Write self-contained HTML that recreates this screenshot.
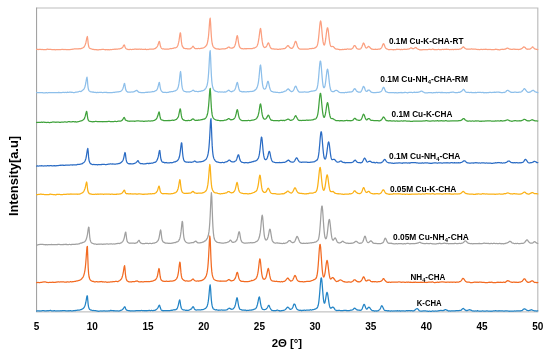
<!DOCTYPE html>
<html><head><meta charset="utf-8"><title>XRD</title>
<style>
html,body{margin:0;padding:0;background:#fff;}
body{width:550px;height:358px;overflow:hidden;}
svg{display:block;}
text{font-family:"Liberation Sans",sans-serif;font-weight:bold;fill:#000;}
polyline{fill:none;stroke-width:1.25;stroke-linejoin:round;stroke-linecap:round;}
</style></head><body>
<svg width="550" height="358" viewBox="0 0 550 358">
<rect x="0" y="0" width="550" height="358" fill="#fff"/>
<path d="M36.6 8 H537.8 V311.6" fill="none" stroke="#bebebe" stroke-width="1.2"/>
<path d="M36.6 7.5 V312" fill="none" stroke="#9a9a9a" stroke-width="1"/><path d="M36.1 311.9 H538.3" fill="none" stroke="#b4b4b4" stroke-width="1"/>
<polyline stroke="#2384c6" points="36.6,311.0 37.0,310.9 37.4,310.9 37.8,310.9 38.2,310.9 38.6,310.9 39.0,310.9 39.4,310.8 39.8,311.0 40.2,311.0 40.6,310.9 41.0,310.8 41.4,310.8 41.8,310.8 42.2,310.7 42.6,310.6 43.0,310.7 43.4,310.7 43.8,310.7 44.2,310.7 44.6,310.9 45.0,310.9 45.4,310.9 45.8,311.0 46.2,310.9 46.6,310.8 47.0,310.7 47.4,310.7 47.8,310.8 48.2,310.8 48.6,310.7 49.0,310.7 49.4,310.6 49.8,310.5 50.2,310.4 50.6,310.4 51.0,310.6 51.4,310.8 51.8,310.9 52.2,310.9 52.6,310.9 53.0,310.9 53.4,310.9 53.8,310.7 54.2,310.6 54.6,310.6 55.0,310.9 55.4,311.0 55.8,310.9 56.2,310.9 56.6,311.0 57.0,310.9 57.4,310.9 57.8,310.9 58.2,310.8 58.6,310.8 59.0,310.8 59.4,310.8 59.8,310.9 60.2,310.9 60.6,310.8 61.0,310.6 61.4,310.8 61.8,310.9 62.2,310.7 62.6,310.5 63.0,310.5 63.4,310.5 63.8,310.5 64.2,310.6 64.6,310.7 65.0,310.7 65.4,310.7 65.8,310.9 66.2,310.9 66.6,310.8 67.0,310.8 67.4,310.9 67.8,310.8 68.2,310.7 68.6,310.8 69.0,310.9 69.4,310.8 69.8,310.7 70.2,310.7 70.6,310.7 71.0,310.8 71.4,310.9 71.8,311.0 72.2,310.9 72.6,310.9 73.0,310.8 73.4,310.7 73.8,310.6 74.2,310.5 74.6,310.6 75.0,310.7 75.4,310.6 75.8,310.4 76.2,310.3 76.6,310.3 77.0,310.3 77.4,310.2 77.8,310.1 78.2,310.1 78.6,310.1 79.0,310.1 79.4,310.1 79.8,310.0 80.2,309.8 80.6,309.7 81.0,309.6 81.4,309.6 81.8,309.3 82.2,309.0 82.6,308.9 83.0,308.6 83.4,308.2 83.8,307.8 84.2,307.3 84.6,306.5 85.0,305.5 85.4,304.2 85.8,302.5 86.2,300.3 86.6,297.9 87.0,295.9 87.4,295.9 87.8,300.4 88.2,304.6 88.6,306.9 89.0,308.2 89.4,309.0 89.8,309.5 90.2,309.7 90.6,309.9 91.0,310.1 91.4,310.2 91.8,310.2 92.2,310.4 92.6,310.5 93.0,310.5 93.4,310.5 93.8,310.4 94.2,310.5 94.6,310.6 95.0,310.6 95.4,310.7 95.8,310.7 96.2,310.8 96.6,310.8 97.0,310.8 97.4,311.0 97.8,311.2 98.2,311.3 98.6,311.2 99.0,311.0 99.4,311.0 99.8,311.1 100.2,311.0 100.6,310.9 101.0,311.0 101.4,311.0 101.8,310.9 102.2,310.9 102.6,311.0 103.0,311.0 103.4,310.9 103.8,310.9 104.2,310.8 104.6,310.9 105.0,310.9 105.4,311.0 105.8,311.0 106.2,310.9 106.6,311.0 107.0,311.1 107.4,311.0 107.8,310.9 108.2,310.9 108.6,310.9 109.0,310.8 109.4,310.8 109.8,310.8 110.2,310.6 110.6,310.4 111.0,310.4 111.4,310.6 111.8,310.7 112.2,310.7 112.6,310.7 113.0,310.7 113.4,310.8 113.8,310.7 114.2,310.7 114.6,310.8 115.0,310.8 115.4,310.8 115.8,310.9 116.2,310.8 116.6,310.8 117.0,310.9 117.4,310.8 117.8,310.8 118.2,310.9 118.6,311.0 119.0,311.0 119.4,310.9 119.8,310.8 120.2,310.6 120.6,310.4 121.0,310.3 121.4,310.2 121.8,310.0 122.2,309.8 122.6,309.4 123.0,309.0 123.4,308.5 123.8,307.9 124.2,307.2 124.6,306.8 125.0,306.9 125.4,308.1 125.8,309.1 126.2,309.7 126.6,310.1 127.0,310.3 127.4,310.3 127.8,310.5 128.2,310.6 128.6,310.6 129.0,310.6 129.4,310.7 129.8,310.8 130.2,310.8 130.6,311.0 131.0,310.9 131.4,310.8 131.8,310.8 132.2,310.9 132.6,310.8 133.0,310.8 133.4,310.9 133.8,311.0 134.2,310.9 134.6,310.8 135.0,310.8 135.4,310.8 135.8,310.7 136.2,310.6 136.6,310.6 137.0,310.6 137.4,310.7 137.8,310.7 138.2,310.7 138.6,310.7 139.0,310.6 139.4,310.5 139.8,310.5 140.2,310.6 140.6,310.7 141.0,310.5 141.4,310.4 141.8,310.5 142.2,310.6 142.6,310.5 143.0,310.5 143.4,310.5 143.8,310.5 144.2,310.6 144.6,310.7 145.0,310.8 145.4,310.7 145.8,310.7 146.2,310.7 146.6,310.8 147.0,310.6 147.4,310.5 147.8,310.5 148.2,310.6 148.6,310.5 149.0,310.3 149.4,310.3 149.8,310.5 150.2,310.5 150.6,310.5 151.0,310.5 151.4,310.3 151.8,310.4 152.2,310.5 152.6,310.5 153.0,310.5 153.4,310.5 153.8,310.3 154.2,310.3 154.6,310.4 155.0,310.3 155.4,310.1 155.8,309.9 156.2,309.6 156.6,309.3 157.0,308.9 157.4,308.4 157.8,308.0 158.2,307.3 158.6,306.3 159.0,305.5 159.4,305.1 159.8,305.8 160.2,307.3 160.6,308.6 161.0,309.5 161.4,310.1 161.8,310.3 162.2,310.4 162.6,310.6 163.0,310.8 163.4,310.7 163.8,310.6 164.2,310.7 164.6,310.7 165.0,310.6 165.4,310.5 165.8,310.5 166.2,310.6 166.6,310.5 167.0,310.5 167.4,310.7 167.8,310.7 168.2,310.6 168.6,310.6 169.0,310.6 169.4,310.6 169.8,310.5 170.2,310.5 170.6,310.4 171.0,310.4 171.4,310.3 171.8,310.2 172.2,310.3 172.6,310.2 173.0,310.0 173.4,309.8 173.8,309.8 174.2,309.7 174.6,309.8 175.0,309.8 175.4,309.8 175.8,309.6 176.2,309.4 176.6,309.2 177.0,308.8 177.4,307.9 177.8,306.8 178.2,305.6 178.6,304.0 179.0,301.9 179.4,300.3 179.8,299.9 180.2,302.0 180.6,305.0 181.0,307.0 181.4,308.2 181.8,308.9 182.2,309.3 182.6,309.6 183.0,309.8 183.4,310.0 183.8,309.9 184.2,309.9 184.6,310.0 185.0,310.1 185.4,310.3 185.8,310.4 186.2,310.4 186.6,310.2 187.0,310.2 187.4,310.4 187.8,310.4 188.2,310.3 188.6,310.3 189.0,310.1 189.4,310.0 189.8,309.7 190.2,309.4 190.6,309.3 191.0,309.2 191.4,308.8 191.8,308.3 192.2,307.7 192.6,307.1 193.0,306.7 193.4,306.9 193.8,307.6 194.2,308.5 194.6,309.2 195.0,309.6 195.4,309.8 195.8,310.0 196.2,310.0 196.6,310.0 197.0,309.9 197.4,309.9 197.8,309.9 198.2,309.9 198.6,309.8 199.0,309.9 199.4,309.9 199.8,309.9 200.2,309.9 200.6,310.0 201.0,309.9 201.4,309.7 201.8,309.6 202.2,309.7 202.6,309.7 203.0,309.6 203.4,309.5 203.8,309.3 204.2,309.0 204.6,308.8 205.0,308.7 205.4,308.5 205.8,308.1 206.2,307.7 206.6,307.1 207.0,306.4 207.4,305.4 207.8,303.9 208.2,301.7 208.6,298.8 209.0,294.9 209.4,290.2 209.8,286.1 210.2,284.8 210.6,288.9 211.0,295.2 211.4,300.4 211.8,303.8 212.2,305.9 212.6,307.3 213.0,308.3 213.4,308.9 213.8,309.1 214.2,309.3 214.6,309.5 215.0,309.7 215.4,309.9 215.8,309.8 216.2,309.7 216.6,309.7 217.0,309.9 217.4,310.0 217.8,310.0 218.2,310.1 218.6,310.3 219.0,310.2 219.4,310.0 219.8,310.0 220.2,310.2 220.6,310.1 221.0,310.0 221.4,309.9 221.8,310.0 222.2,310.2 222.6,310.2 223.0,310.1 223.4,310.1 223.8,310.1 224.2,310.2 224.6,310.2 225.0,310.2 225.4,310.1 225.8,310.0 226.2,309.9 226.6,309.9 227.0,309.8 227.4,309.5 227.8,309.1 228.2,308.8 228.6,308.6 229.0,308.3 229.4,308.2 229.8,308.4 230.2,308.6 230.6,308.9 231.0,309.1 231.4,309.2 231.8,309.3 232.2,309.2 232.6,309.1 233.0,309.0 233.4,308.7 233.8,308.2 234.2,307.6 234.6,307.1 235.0,306.1 235.4,304.7 235.8,302.8 236.2,300.9 236.6,298.9 237.0,297.7 237.4,298.5 237.8,300.9 238.2,303.5 238.6,305.7 239.0,307.3 239.4,308.4 239.8,309.1 240.2,309.4 240.6,309.5 241.0,309.6 241.4,309.7 241.8,309.9 242.2,310.2 242.6,310.2 243.0,310.1 243.4,310.0 243.8,310.1 244.2,310.1 244.6,310.2 245.0,310.3 245.4,310.2 245.8,310.2 246.2,310.3 246.6,310.5 247.0,310.5 247.4,310.4 247.8,310.4 248.2,310.4 248.6,310.4 249.0,310.3 249.4,310.2 249.8,310.1 250.2,310.1 250.6,310.1 251.0,310.2 251.4,310.1 251.8,309.9 252.2,309.8 252.6,309.8 253.0,309.7 253.4,309.6 253.8,309.4 254.2,309.2 254.6,309.1 255.0,309.0 255.4,308.7 255.8,308.4 256.2,307.9 256.6,307.1 257.0,306.1 257.4,304.7 257.8,303.0 258.2,300.9 258.6,298.8 259.0,297.2 259.4,296.9 259.8,298.5 260.2,301.1 260.6,303.6 261.0,305.6 261.4,307.0 261.8,308.1 262.2,308.9 262.6,309.3 263.0,309.4 263.4,309.5 263.8,309.6 264.2,309.6 264.6,309.5 265.0,309.5 265.4,309.4 265.8,309.2 266.2,308.9 266.6,308.5 267.0,308.1 267.4,307.5 267.8,306.7 268.2,305.8 268.6,305.3 269.0,305.4 269.4,306.2 269.8,307.2 270.2,308.1 270.6,308.8 271.0,309.4 271.4,310.0 271.8,310.3 272.2,310.4 272.6,310.5 273.0,310.6 273.4,310.6 273.8,310.6 274.2,310.5 274.6,310.5 275.0,310.6 275.4,310.6 275.8,310.6 276.2,310.5 276.6,310.3 277.0,310.2 277.4,310.1 277.8,310.2 278.2,310.4 278.6,310.5 279.0,310.7 279.4,310.8 279.8,310.7 280.2,310.8 280.6,310.8 281.0,310.8 281.4,310.7 281.8,310.7 282.2,310.6 282.6,310.5 283.0,310.4 283.4,310.4 283.8,310.3 284.2,310.2 284.6,310.0 285.0,309.8 285.4,309.5 285.8,309.0 286.2,308.7 286.6,308.2 287.0,307.7 287.4,307.3 287.8,307.1 288.2,307.4 288.6,307.7 289.0,308.2 289.4,308.7 289.8,309.1 290.2,309.3 290.6,309.3 291.0,309.2 291.4,309.0 291.8,308.8 292.2,308.4 292.6,307.7 293.0,306.7 293.4,305.5 293.8,304.5 294.2,304.0 294.6,304.0 295.0,304.6 295.4,305.6 295.8,306.7 296.2,307.7 296.6,308.6 297.0,309.2 297.4,309.5 297.8,309.8 298.2,310.1 298.6,310.2 299.0,310.2 299.4,310.3 299.8,310.4 300.2,310.3 300.6,310.2 301.0,310.4 301.4,310.6 301.8,310.6 302.2,310.4 302.6,310.4 303.0,310.4 303.4,310.4 303.8,310.2 304.2,310.1 304.6,310.2 305.0,310.3 305.4,310.3 305.8,310.3 306.2,310.2 306.6,310.1 307.0,310.1 307.4,310.1 307.8,310.1 308.2,310.1 308.6,310.0 309.0,310.0 309.4,310.1 309.8,310.1 310.2,309.8 310.6,309.7 311.0,309.9 311.4,310.0 311.8,310.0 312.2,309.8 312.6,309.7 313.0,309.7 313.4,309.7 313.8,309.5 314.2,309.4 314.6,309.3 315.0,309.1 315.4,308.9 315.8,308.8 316.2,308.6 316.6,308.3 317.0,308.0 317.4,307.5 317.8,306.5 318.2,305.3 318.6,303.3 319.0,300.3 319.4,296.4 319.8,291.6 320.2,286.4 320.6,281.5 321.0,278.3 321.4,277.9 321.8,280.2 322.2,284.4 322.6,289.6 323.0,294.5 323.4,298.6 323.8,301.6 324.2,303.2 324.6,303.2 325.0,302.2 325.4,300.3 325.8,297.9 326.2,295.4 326.6,293.2 327.0,292.3 327.4,293.0 327.8,294.9 328.2,297.5 328.6,300.4 329.0,303.1 329.4,305.4 329.8,306.9 330.2,307.8 330.6,308.2 331.0,308.1 331.4,307.9 331.8,307.6 332.2,307.4 332.6,307.1 333.0,307.1 333.4,307.4 333.8,307.8 334.2,308.2 334.6,308.9 335.0,309.6 335.4,310.0 335.8,310.2 336.2,310.3 336.6,310.6 337.0,310.6 337.4,310.5 337.8,310.4 338.2,310.4 338.6,310.5 339.0,310.4 339.4,310.3 339.8,310.4 340.2,310.5 340.6,310.5 341.0,310.5 341.4,310.5 341.8,310.5 342.2,310.5 342.6,310.6 343.0,310.7 343.4,310.5 343.8,310.3 344.2,310.3 344.6,310.4 345.0,310.4 345.4,310.4 345.8,310.4 346.2,310.4 346.6,310.6 347.0,310.6 347.4,310.6 347.8,310.6 348.2,310.7 348.6,310.6 349.0,310.5 349.4,310.6 349.8,310.5 350.2,310.3 350.6,310.2 351.0,310.2 351.4,310.2 351.8,310.1 352.2,310.0 352.6,309.8 353.0,309.6 353.4,309.1 353.8,308.7 354.2,308.3 354.6,308.2 355.0,308.3 355.4,308.6 355.8,308.9 356.2,309.4 356.6,309.7 357.0,309.8 357.4,309.9 357.8,310.1 358.2,310.2 358.6,310.2 359.0,310.2 359.4,310.2 359.8,310.3 360.2,310.3 360.6,310.3 361.0,310.1 361.4,309.9 361.8,309.4 362.2,308.7 362.6,307.6 363.0,306.5 363.4,305.4 363.8,304.5 364.2,304.3 364.6,304.8 365.0,305.9 365.4,307.1 365.8,308.0 366.2,308.7 366.6,309.1 367.0,309.1 367.4,308.8 367.8,308.2 368.2,307.6 368.6,307.3 369.0,307.2 369.4,307.4 369.8,307.8 370.2,308.4 370.6,309.0 371.0,309.6 371.4,309.9 371.8,310.3 372.2,310.6 372.6,310.7 373.0,310.7 373.4,310.7 373.8,310.8 374.2,310.9 374.6,311.1 375.0,311.0 375.4,310.8 375.8,311.0 376.2,311.1 376.6,310.9 377.0,310.9 377.4,310.9 377.8,310.8 378.2,310.7 378.6,310.4 379.0,310.1 379.4,309.8 379.8,309.4 380.2,308.8 380.6,308.0 381.0,306.9 381.4,306.0 381.8,305.7 382.2,306.0 382.6,306.7 383.0,307.5 383.4,308.4 383.8,309.2 384.2,309.9 384.6,310.3 385.0,310.4 385.4,310.5 385.8,310.5 386.2,310.5 386.6,310.6 387.0,310.7 387.4,310.8 387.8,310.8 388.2,310.7 388.6,310.7 389.0,310.9 389.4,310.9 389.8,311.0 390.2,311.1 390.6,311.1 391.0,310.9 391.4,310.8 391.8,310.9 392.2,311.0 392.6,311.0 393.0,310.9 393.4,310.9 393.8,311.0 394.2,311.0 394.6,310.9 395.0,310.9 395.4,310.8 395.8,310.8 396.2,311.0 396.6,310.9 397.0,310.7 397.4,310.7 397.8,310.8 398.2,310.9 398.6,311.0 399.0,310.9 399.4,310.8 399.8,310.7 400.2,310.9 400.6,311.1 401.0,311.0 401.4,310.9 401.8,310.9 402.2,310.9 402.6,310.8 403.0,310.8 403.4,310.8 403.8,310.8 404.2,310.9 404.6,311.0 405.0,311.1 405.4,311.0 405.8,310.8 406.2,310.7 406.6,310.7 407.0,310.7 407.4,310.7 407.8,310.8 408.2,310.7 408.6,310.7 409.0,310.6 409.4,310.6 409.8,310.6 410.2,310.8 410.6,310.8 411.0,310.6 411.4,310.6 411.8,310.6 412.2,310.8 412.6,310.9 413.0,310.9 413.4,310.8 413.8,310.8 414.2,310.6 414.6,310.4 415.0,310.1 415.4,309.6 415.8,309.2 416.2,309.0 416.6,308.8 417.0,308.6 417.4,308.6 417.8,309.0 418.2,309.4 418.6,309.8 419.0,310.4 419.4,310.7 419.8,310.9 420.2,311.0 420.6,311.1 421.0,311.2 421.4,311.2 421.8,311.2 422.2,311.1 422.6,311.0 423.0,310.8 423.4,310.8 423.8,310.8 424.2,310.9 424.6,310.8 425.0,310.8 425.4,310.9 425.8,310.9 426.2,311.0 426.6,311.1 427.0,311.0 427.4,311.1 427.8,311.3 428.2,311.3 428.6,311.3 429.0,311.2 429.4,311.1 429.8,311.1 430.2,311.3 430.6,311.4 431.0,311.4 431.4,311.3 431.8,311.2 432.2,311.0 432.6,310.9 433.0,311.0 433.4,311.2 433.8,311.2 434.2,311.0 434.6,311.0 435.0,311.0 435.4,311.0 435.8,310.9 436.2,311.0 436.6,311.0 437.0,311.0 437.4,311.0 437.8,310.9 438.2,310.9 438.6,310.8 439.0,310.6 439.4,310.5 439.8,310.5 440.2,310.5 440.6,310.4 441.0,310.5 441.4,310.5 441.8,310.4 442.2,310.5 442.6,310.6 443.0,310.6 443.4,310.4 443.8,310.4 444.2,310.3 444.6,309.9 445.0,309.7 445.4,309.7 445.8,309.7 446.2,309.9 446.6,310.1 447.0,310.2 447.4,310.4 447.8,310.6 448.2,310.8 448.6,311.0 449.0,311.0 449.4,310.8 449.8,310.9 450.2,311.0 450.6,311.0 451.0,310.8 451.4,310.8 451.8,310.9 452.2,310.9 452.6,310.8 453.0,310.8 453.4,310.9 453.8,310.9 454.2,310.9 454.6,310.9 455.0,310.9 455.4,310.8 455.8,310.7 456.2,310.6 456.6,310.6 457.0,310.7 457.4,310.6 457.8,310.7 458.2,310.7 458.6,310.5 459.0,310.5 459.4,310.5 459.8,310.4 460.2,310.4 460.6,310.4 461.0,310.3 461.4,310.0 461.8,309.5 462.2,309.1 462.6,308.8 463.0,308.5 463.4,308.4 463.8,308.7 464.2,309.2 464.6,309.6 465.0,309.9 465.4,310.1 465.8,310.4 466.2,310.6 466.6,310.6 467.0,310.4 467.4,310.5 467.8,310.3 468.2,310.2 468.6,310.0 469.0,309.8 469.4,309.7 469.8,309.8 470.2,309.9 470.6,310.1 471.0,310.2 471.4,310.3 471.8,310.6 472.2,310.8 472.6,310.9 473.0,310.9 473.4,310.9 473.8,311.0 474.2,311.0 474.6,311.0 475.0,310.9 475.4,310.9 475.8,311.0 476.2,311.1 476.6,311.0 477.0,310.8 477.4,310.7 477.8,310.7 478.2,310.9 478.6,311.0 479.0,311.0 479.4,311.0 479.8,311.0 480.2,311.0 480.6,311.0 481.0,311.0 481.4,311.0 481.8,311.0 482.2,310.9 482.6,310.8 483.0,310.9 483.4,311.0 483.8,311.0 484.2,311.1 484.6,311.1 485.0,311.0 485.4,311.0 485.8,311.0 486.2,310.9 486.6,311.0 487.0,310.9 487.4,310.9 487.8,311.0 488.2,311.0 488.6,311.1 489.0,311.2 489.4,311.1 489.8,311.0 490.2,311.0 490.6,311.2 491.0,311.3 491.4,311.2 491.8,311.1 492.2,311.0 492.6,311.1 493.0,311.0 493.4,310.9 493.8,310.8 494.2,310.9 494.6,310.9 495.0,310.8 495.4,310.7 495.8,310.7 496.2,310.8 496.6,310.9 497.0,310.9 497.4,310.9 497.8,311.0 498.2,311.0 498.6,310.8 499.0,310.7 499.4,310.8 499.8,310.8 500.2,310.8 500.6,310.9 501.0,310.9 501.4,310.8 501.8,310.8 502.2,310.9 502.6,310.9 503.0,310.9 503.4,311.0 503.8,311.0 504.2,311.0 504.6,311.0 505.0,310.8 505.4,310.8 505.8,310.9 506.2,310.9 506.6,310.9 507.0,310.9 507.4,310.9 507.8,311.0 508.2,311.1 508.6,311.0 509.0,311.1 509.4,311.3 509.8,311.2 510.2,311.1 510.6,311.2 511.0,311.2 511.4,311.1 511.8,311.1 512.2,311.1 512.6,311.1 513.0,311.1 513.4,311.0 513.8,311.0 514.2,311.0 514.6,310.9 515.0,310.9 515.4,311.0 515.8,311.1 516.2,311.0 516.6,310.8 517.0,310.8 517.4,310.8 517.8,310.8 518.2,310.9 518.6,310.9 519.0,310.8 519.4,310.8 519.8,310.9 520.2,310.9 520.6,310.8 521.0,310.7 521.4,310.7 521.8,310.7 522.2,310.4 522.6,310.1 523.0,309.7 523.4,309.3 523.8,309.0 524.2,308.9 524.6,308.9 525.0,309.1 525.4,309.2 525.8,309.4 526.2,309.8 526.6,310.1 527.0,310.3 527.4,310.4 527.8,310.5 528.2,310.6 528.6,310.6 529.0,310.5 529.4,310.4 529.8,310.3 530.2,310.2 530.6,310.1 531.0,309.9 531.4,309.7 531.8,309.8 532.2,310.0 532.6,310.2 533.0,310.4 533.4,310.5 533.8,310.6 534.2,310.8 534.6,310.9 535.0,310.9 535.4,310.8 535.8,310.9 536.2,311.0 536.6,311.0 537.0,310.8 537.4,310.8 537.8,310.8"/>
<polyline stroke="#f26a21" points="36.6,282.5 37.0,282.5 37.4,282.5 37.8,282.4 38.2,282.4 38.6,282.5 39.0,282.5 39.4,282.5 39.8,282.5 40.2,282.5 40.6,282.4 41.0,282.3 41.4,282.3 41.8,282.3 42.2,282.2 42.6,282.2 43.0,282.1 43.4,282.0 43.8,281.8 44.2,281.9 44.6,282.0 45.0,281.9 45.4,281.9 45.8,282.0 46.2,282.2 46.6,282.3 47.0,282.3 47.4,282.4 47.8,282.5 48.2,282.6 48.6,282.5 49.0,282.4 49.4,282.4 49.8,282.4 50.2,282.4 50.6,282.3 51.0,282.3 51.4,282.3 51.8,282.3 52.2,282.3 52.6,282.2 53.0,282.2 53.4,282.3 53.8,282.4 54.2,282.4 54.6,282.4 55.0,282.3 55.4,282.3 55.8,282.2 56.2,282.0 56.6,282.1 57.0,282.2 57.4,282.0 57.8,281.8 58.2,281.9 58.6,281.9 59.0,281.9 59.4,282.0 59.8,282.0 60.2,281.9 60.6,281.8 61.0,281.8 61.4,281.8 61.8,281.8 62.2,281.8 62.6,281.8 63.0,281.9 63.4,281.9 63.8,281.9 64.2,282.0 64.6,282.0 65.0,282.1 65.4,282.0 65.8,282.0 66.2,282.1 66.6,282.1 67.0,281.9 67.4,281.9 67.8,281.9 68.2,281.9 68.6,282.0 69.0,282.0 69.4,282.0 69.8,281.9 70.2,281.7 70.6,281.7 71.0,281.7 71.4,281.9 71.8,281.9 72.2,281.8 72.6,281.7 73.0,281.6 73.4,281.6 73.8,281.5 74.2,281.5 74.6,281.4 75.0,281.4 75.4,281.4 75.8,281.2 76.2,281.1 76.6,281.0 77.0,280.8 77.4,280.9 77.8,280.8 78.2,280.7 78.6,280.5 79.0,280.4 79.4,280.3 79.8,280.2 80.2,280.0 80.6,279.8 81.0,279.4 81.4,279.1 81.8,278.7 82.2,278.2 82.6,277.7 83.0,277.1 83.4,276.3 83.8,275.2 84.2,273.8 84.6,272.2 85.0,270.0 85.4,266.8 85.8,262.5 86.2,257.3 86.6,251.6 87.0,246.9 87.4,246.5 87.8,257.5 88.2,267.7 88.6,273.4 89.0,276.5 89.4,278.1 89.8,279.1 90.2,279.8 90.6,280.3 91.0,280.6 91.4,280.9 91.8,281.0 92.2,281.2 92.6,281.4 93.0,281.4 93.4,281.4 93.8,281.6 94.2,281.7 94.6,281.9 95.0,282.0 95.4,281.9 95.8,281.7 96.2,281.6 96.6,281.6 97.0,281.7 97.4,281.8 97.8,281.8 98.2,281.9 98.6,281.9 99.0,281.9 99.4,281.8 99.8,281.7 100.2,281.7 100.6,281.7 101.0,281.8 101.4,281.6 101.8,281.5 102.2,281.7 102.6,282.0 103.0,281.9 103.4,281.8 103.8,281.9 104.2,282.0 104.6,282.0 105.0,281.9 105.4,281.9 105.8,281.9 106.2,282.0 106.6,282.2 107.0,282.3 107.4,282.3 107.8,282.1 108.2,282.0 108.6,282.0 109.0,282.1 109.4,282.1 109.8,282.1 110.2,282.0 110.6,281.8 111.0,281.8 111.4,281.9 111.8,281.9 112.2,281.9 112.6,281.7 113.0,281.5 113.4,281.6 113.8,281.6 114.2,281.6 114.6,281.6 115.0,281.5 115.4,281.4 115.8,281.4 116.2,281.4 116.6,281.4 117.0,281.5 117.4,281.6 117.8,281.7 118.2,281.3 118.6,281.1 119.0,281.0 119.4,280.8 119.8,280.5 120.2,280.1 120.6,279.7 121.0,279.3 121.4,278.8 121.8,278.1 122.2,277.1 122.6,275.7 123.0,273.8 123.4,271.7 123.8,269.1 124.2,266.7 124.6,265.7 125.0,268.9 125.4,273.9 125.8,277.0 126.2,278.7 126.6,279.9 127.0,280.7 127.4,281.0 127.8,281.3 128.2,281.6 128.6,281.7 129.0,281.8 129.4,281.8 129.8,281.8 130.2,281.9 130.6,281.9 131.0,281.9 131.4,282.0 131.8,281.8 132.2,281.7 132.6,281.7 133.0,281.7 133.4,281.6 133.8,281.6 134.2,281.7 134.6,281.7 135.0,281.5 135.4,281.3 135.8,281.2 136.2,281.1 136.6,281.0 137.0,280.9 137.4,281.1 137.8,281.3 138.2,281.5 138.6,281.7 139.0,281.8 139.4,281.9 139.8,281.9 140.2,281.9 140.6,281.8 141.0,281.7 141.4,281.7 141.8,281.8 142.2,281.8 142.6,281.9 143.0,281.9 143.4,281.9 143.8,281.8 144.2,281.7 144.6,281.7 145.0,281.7 145.4,281.7 145.8,281.7 146.2,281.6 146.6,281.5 147.0,281.6 147.4,281.7 147.8,281.6 148.2,281.5 148.6,281.6 149.0,281.6 149.4,281.6 149.8,281.5 150.2,281.5 150.6,281.4 151.0,281.4 151.4,281.3 151.8,281.2 152.2,281.1 152.6,281.1 153.0,281.0 153.4,280.7 153.8,280.5 154.2,280.3 154.6,280.3 155.0,280.1 155.4,279.7 155.8,279.3 156.2,278.8 156.6,278.1 157.0,277.2 157.4,276.0 157.8,274.1 158.2,271.9 158.6,269.8 159.0,268.5 159.4,269.7 159.8,273.5 160.2,276.5 160.6,278.4 161.0,279.6 161.4,280.3 161.8,280.5 162.2,280.8 162.6,281.1 163.0,281.2 163.4,281.2 163.8,281.3 164.2,281.4 164.6,281.4 165.0,281.4 165.4,281.4 165.8,281.3 166.2,281.2 166.6,281.2 167.0,281.3 167.4,281.4 167.8,281.4 168.2,281.4 168.6,281.3 169.0,281.3 169.4,281.3 169.8,281.2 170.2,281.1 170.6,281.0 171.0,281.1 171.4,281.2 171.8,281.1 172.2,281.0 172.6,281.0 173.0,280.9 173.4,280.8 173.8,280.7 174.2,280.6 174.6,280.4 175.0,280.2 175.4,279.9 175.8,279.5 176.2,279.1 176.6,278.6 177.0,277.9 177.4,276.9 177.8,275.5 178.2,273.6 178.6,271.0 179.0,267.7 179.4,264.4 179.8,262.1 180.2,263.1 180.6,268.2 181.0,272.9 181.4,275.9 181.8,277.7 182.2,278.7 182.6,279.2 183.0,279.5 183.4,279.9 183.8,280.2 184.2,280.4 184.6,280.6 185.0,280.8 185.4,281.0 185.8,281.0 186.2,280.9 186.6,280.9 187.0,280.8 187.4,281.0 187.8,281.2 188.2,281.1 188.6,281.0 189.0,281.0 189.4,281.0 189.8,280.9 190.2,280.8 190.6,280.8 191.0,280.6 191.4,280.3 191.8,279.8 192.2,279.6 192.6,279.3 193.0,279.0 193.4,279.1 193.8,279.7 194.2,280.2 194.6,280.5 195.0,280.7 195.4,280.9 195.8,281.0 196.2,281.1 196.6,281.1 197.0,281.0 197.4,280.9 197.8,281.0 198.2,281.2 198.6,281.2 199.0,280.9 199.4,280.8 199.8,280.8 200.2,280.8 200.6,280.7 201.0,280.7 201.4,280.6 201.8,280.4 202.2,280.2 202.6,280.2 203.0,279.8 203.4,279.5 203.8,279.3 204.2,278.9 204.6,278.5 205.0,278.0 205.4,277.3 205.8,276.7 206.2,275.8 206.6,274.6 207.0,272.9 207.4,270.7 207.8,267.5 208.2,262.9 208.6,256.8 209.0,249.0 209.4,240.9 209.8,236.0 210.2,238.9 210.6,249.3 211.0,259.5 211.4,266.8 211.8,271.4 212.2,274.4 212.6,276.2 213.0,277.3 213.4,278.3 213.8,279.1 214.2,279.5 214.6,279.8 215.0,280.0 215.4,280.2 215.8,280.4 216.2,280.5 216.6,280.6 217.0,280.8 217.4,280.9 217.8,280.9 218.2,280.9 218.6,281.0 219.0,281.1 219.4,281.1 219.8,281.0 220.2,280.9 220.6,281.2 221.0,281.3 221.4,281.1 221.8,281.0 222.2,281.0 222.6,281.1 223.0,281.2 223.4,281.2 223.8,281.2 224.2,281.1 224.6,281.0 225.0,281.0 225.4,281.2 225.8,281.2 226.2,281.1 226.6,280.9 227.0,280.7 227.4,280.5 227.8,280.2 228.2,279.8 228.6,279.6 229.0,279.5 229.4,279.7 229.8,280.1 230.2,280.4 230.6,280.6 231.0,280.8 231.4,280.9 231.8,280.8 232.2,280.6 232.6,280.5 233.0,280.5 233.4,280.4 233.8,280.1 234.2,279.7 234.6,279.2 235.0,278.7 235.4,277.9 235.8,276.7 236.2,275.3 236.6,273.7 237.0,272.5 237.4,272.3 237.8,273.4 238.2,275.4 238.6,277.2 239.0,278.5 239.4,279.5 239.8,280.1 240.2,280.6 240.6,280.9 241.0,281.1 241.4,281.3 241.8,281.4 242.2,281.4 242.6,281.3 243.0,281.3 243.4,281.3 243.8,281.5 244.2,281.5 244.6,281.5 245.0,281.6 245.4,281.5 245.8,281.5 246.2,281.5 246.6,281.5 247.0,281.6 247.4,281.6 247.8,281.6 248.2,281.6 248.6,281.5 249.0,281.4 249.4,281.4 249.8,281.3 250.2,281.1 250.6,281.0 251.0,280.9 251.4,280.6 251.8,280.4 252.2,280.5 252.6,280.5 253.0,280.4 253.4,280.2 253.8,280.0 254.2,279.9 254.6,279.6 255.0,279.3 255.4,279.1 255.8,278.8 256.2,278.2 256.6,277.6 257.0,276.6 257.4,275.2 257.8,273.4 258.2,271.0 258.6,267.9 259.0,264.3 259.4,260.8 259.8,258.9 260.2,259.6 260.6,262.7 261.0,266.8 261.4,270.8 261.8,274.0 262.2,276.1 262.6,277.6 263.0,278.5 263.4,279.0 263.8,279.2 264.2,279.3 264.6,279.1 265.0,278.9 265.4,278.4 265.8,277.7 266.2,276.6 266.6,275.1 267.0,273.3 267.4,271.3 267.8,269.4 268.2,268.4 268.6,269.1 269.0,271.0 269.4,273.5 269.8,275.7 270.2,277.6 270.6,279.0 271.0,279.8 271.4,280.3 271.8,280.6 272.2,280.9 272.6,281.0 273.0,281.1 273.4,281.2 273.8,281.2 274.2,281.2 274.6,281.3 275.0,281.4 275.4,281.5 275.8,281.4 276.2,281.2 276.6,281.3 277.0,281.4 277.4,281.5 277.8,281.5 278.2,281.5 278.6,281.6 279.0,281.6 279.4,281.6 279.8,281.7 280.2,281.9 280.6,281.9 281.0,281.7 281.4,281.5 281.8,281.6 282.2,281.8 282.6,281.8 283.0,281.7 283.4,281.5 283.8,281.4 284.2,281.4 284.6,281.2 285.0,280.9 285.4,280.5 285.8,280.2 286.2,279.7 286.6,279.2 287.0,278.6 287.4,278.2 287.8,278.0 288.2,278.2 288.6,278.8 289.0,279.5 289.4,280.0 289.8,280.3 290.2,280.6 290.6,281.0 291.0,281.0 291.4,280.9 291.8,280.8 292.2,280.5 292.6,280.1 293.0,279.5 293.4,278.6 293.8,277.7 294.2,276.6 294.6,275.8 295.0,275.5 295.4,275.8 295.8,276.6 296.2,277.6 296.6,278.7 297.0,279.6 297.4,280.2 297.8,280.6 298.2,281.0 298.6,281.3 299.0,281.3 299.4,281.4 299.8,281.6 300.2,281.7 300.6,281.6 301.0,281.5 301.4,281.6 301.8,281.7 302.2,281.7 302.6,281.7 303.0,281.8 303.4,281.9 303.8,281.8 304.2,281.8 304.6,281.7 305.0,281.6 305.4,281.5 305.8,281.5 306.2,281.5 306.6,281.4 307.0,281.4 307.4,281.4 307.8,281.4 308.2,281.3 308.6,281.3 309.0,281.3 309.4,281.4 309.8,281.3 310.2,281.2 310.6,281.2 311.0,281.0 311.4,280.8 311.8,280.6 312.2,280.5 312.6,280.4 313.0,280.2 313.4,279.9 313.8,279.7 314.2,279.6 314.6,279.4 315.0,279.2 315.4,278.9 315.8,278.5 316.2,278.0 316.6,277.0 317.0,275.5 317.4,273.1 317.8,269.8 318.2,265.3 318.6,259.7 319.0,253.7 319.4,248.3 319.8,244.8 320.2,244.4 320.6,247.1 321.0,252.2 321.4,258.3 321.8,264.3 322.2,269.4 322.6,273.0 323.0,275.4 323.4,276.7 323.8,277.0 324.2,276.4 324.6,275.0 325.0,273.1 325.4,270.5 325.8,267.2 326.2,264.1 326.6,261.6 327.0,260.4 327.4,261.0 327.8,263.4 328.2,266.6 328.6,269.9 329.0,273.1 329.4,275.7 329.8,277.5 330.2,278.6 330.6,279.0 331.0,278.9 331.4,278.6 331.8,278.1 332.2,277.6 332.6,277.5 333.0,277.6 333.4,278.0 333.8,278.5 334.2,279.0 334.6,279.5 335.0,280.1 335.4,280.7 335.8,281.0 336.2,281.3 336.6,281.5 337.0,281.5 337.4,281.3 337.8,281.2 338.2,281.1 338.6,280.9 339.0,280.6 339.4,280.3 339.8,280.1 340.2,280.0 340.6,279.9 341.0,280.0 341.4,280.3 341.8,280.5 342.2,280.8 342.6,281.1 343.0,281.3 343.4,281.5 343.8,281.7 344.2,281.8 344.6,281.7 345.0,281.8 345.4,282.0 345.8,282.1 346.2,282.1 346.6,282.1 347.0,282.1 347.4,282.1 347.8,282.1 348.2,281.9 348.6,281.8 349.0,281.9 349.4,281.9 349.8,282.0 350.2,282.0 350.6,282.0 351.0,282.0 351.4,282.0 351.8,281.9 352.2,281.5 352.6,281.3 353.0,281.1 353.4,280.6 353.8,280.0 354.2,279.8 354.6,279.8 355.0,279.8 355.4,280.1 355.8,280.5 356.2,280.9 356.6,281.1 357.0,281.4 357.4,281.6 357.8,281.8 358.2,281.8 358.6,281.7 359.0,281.8 359.4,281.8 359.8,281.8 360.2,281.6 360.6,281.4 361.0,281.0 361.4,280.6 361.8,280.0 362.2,279.2 362.6,278.4 363.0,277.6 363.4,276.9 363.8,276.8 364.2,277.4 364.6,278.3 365.0,279.3 365.4,280.2 365.8,280.8 366.2,281.0 366.6,280.9 367.0,280.8 367.4,280.4 367.8,280.1 368.2,280.0 368.6,280.1 369.0,280.0 369.4,280.0 369.8,280.2 370.2,280.7 370.6,281.2 371.0,281.5 371.4,281.7 371.8,281.7 372.2,281.7 372.6,281.8 373.0,281.7 373.4,281.6 373.8,281.7 374.2,281.8 374.6,281.7 375.0,281.6 375.4,281.7 375.8,281.7 376.2,281.8 376.6,281.9 377.0,281.9 377.4,281.9 377.8,281.8 378.2,281.7 378.6,281.6 379.0,281.7 379.4,281.7 379.8,281.6 380.2,281.5 380.6,281.3 381.0,281.2 381.4,281.0 381.8,280.6 382.2,280.2 382.6,279.6 383.0,278.9 383.4,278.6 383.8,278.8 384.2,279.2 384.6,279.8 385.0,280.3 385.4,280.8 385.8,281.2 386.2,281.6 386.6,282.0 387.0,282.1 387.4,282.3 387.8,282.3 388.2,282.2 388.6,282.3 389.0,282.3 389.4,282.1 389.8,282.1 390.2,282.3 390.6,282.3 391.0,282.3 391.4,282.2 391.8,282.1 392.2,282.1 392.6,282.2 393.0,282.1 393.4,282.0 393.8,282.0 394.2,282.0 394.6,282.0 395.0,282.1 395.4,282.2 395.8,282.2 396.2,282.2 396.6,282.1 397.0,282.0 397.4,282.0 397.8,282.1 398.2,282.0 398.6,281.9 399.0,281.9 399.4,281.9 399.8,282.0 400.2,282.1 400.6,282.0 401.0,282.1 401.4,282.3 401.8,282.3 402.2,282.2 402.6,282.1 403.0,282.1 403.4,282.0 403.8,282.0 404.2,282.2 404.6,282.3 405.0,282.3 405.4,282.3 405.8,282.3 406.2,282.2 406.6,282.1 407.0,282.1 407.4,282.2 407.8,282.3 408.2,282.2 408.6,282.0 409.0,282.1 409.4,282.3 409.8,282.3 410.2,282.3 410.6,282.2 411.0,282.2 411.4,282.4 411.8,282.4 412.2,282.5 412.6,282.4 413.0,282.2 413.4,282.3 413.8,282.3 414.2,282.2 414.6,282.3 415.0,282.3 415.4,282.2 415.8,282.2 416.2,282.3 416.6,282.4 417.0,282.3 417.4,282.3 417.8,282.3 418.2,282.3 418.6,282.4 419.0,282.4 419.4,282.3 419.8,282.4 420.2,282.4 420.6,282.2 421.0,282.3 421.4,282.3 421.8,282.2 422.2,282.3 422.6,282.4 423.0,282.3 423.4,282.2 423.8,282.2 424.2,282.3 424.6,282.3 425.0,282.3 425.4,282.3 425.8,282.4 426.2,282.5 426.6,282.4 427.0,282.5 427.4,282.4 427.8,282.3 428.2,282.2 428.6,282.1 429.0,282.0 429.4,282.0 429.8,282.0 430.2,282.0 430.6,282.2 431.0,282.2 431.4,282.1 431.8,282.1 432.2,281.9 432.6,281.9 433.0,282.0 433.4,282.2 433.8,282.4 434.2,282.5 434.6,282.5 435.0,282.5 435.4,282.5 435.8,282.4 436.2,282.4 436.6,282.4 437.0,282.4 437.4,282.2 437.8,282.0 438.2,282.2 438.6,282.4 439.0,282.3 439.4,282.2 439.8,282.1 440.2,282.1 440.6,282.0 441.0,281.9 441.4,281.9 441.8,282.0 442.2,281.9 442.6,281.9 443.0,282.0 443.4,282.0 443.8,281.9 444.2,282.0 444.6,282.0 445.0,282.0 445.4,282.2 445.8,282.3 446.2,282.3 446.6,282.2 447.0,282.2 447.4,282.2 447.8,282.1 448.2,282.1 448.6,282.1 449.0,282.1 449.4,282.2 449.8,282.3 450.2,282.2 450.6,282.2 451.0,282.2 451.4,282.2 451.8,282.2 452.2,282.3 452.6,282.2 453.0,282.2 453.4,282.2 453.8,282.2 454.2,282.2 454.6,282.2 455.0,282.2 455.4,282.3 455.8,282.3 456.2,282.2 456.6,282.1 457.0,282.0 457.4,282.1 457.8,282.1 458.2,282.2 458.6,282.2 459.0,282.0 459.4,281.7 459.8,281.6 460.2,281.6 460.6,281.3 461.0,280.9 461.4,280.4 461.8,279.8 462.2,279.1 462.6,278.6 463.0,278.4 463.4,278.5 463.8,278.9 464.2,279.4 464.6,280.0 465.0,280.7 465.4,281.2 465.8,281.5 466.2,281.7 466.6,281.9 467.0,282.1 467.4,282.2 467.8,282.2 468.2,282.1 468.6,282.1 469.0,282.2 469.4,282.2 469.8,282.3 470.2,282.5 470.6,282.5 471.0,282.5 471.4,282.6 471.8,282.5 472.2,282.5 472.6,282.5 473.0,282.4 473.4,282.4 473.8,282.3 474.2,282.2 474.6,282.1 475.0,282.1 475.4,282.1 475.8,282.3 476.2,282.3 476.6,282.2 477.0,282.2 477.4,282.2 477.8,282.3 478.2,282.3 478.6,282.3 479.0,282.1 479.4,282.0 479.8,282.1 480.2,282.2 480.6,282.1 481.0,282.1 481.4,282.2 481.8,282.3 482.2,282.4 482.6,282.3 483.0,282.3 483.4,282.3 483.8,282.3 484.2,282.3 484.6,282.5 485.0,282.6 485.4,282.5 485.8,282.5 486.2,282.6 486.6,282.5 487.0,282.5 487.4,282.5 487.8,282.5 488.2,282.4 488.6,282.4 489.0,282.3 489.4,282.3 489.8,282.2 490.2,282.2 490.6,282.4 491.0,282.4 491.4,282.2 491.8,282.0 492.2,282.2 492.6,282.5 493.0,282.7 493.4,282.7 493.8,282.6 494.2,282.5 494.6,282.6 495.0,282.7 495.4,282.6 495.8,282.5 496.2,282.5 496.6,282.4 497.0,282.2 497.4,282.2 497.8,282.4 498.2,282.4 498.6,282.2 499.0,282.3 499.4,282.4 499.8,282.3 500.2,282.2 500.6,282.3 501.0,282.4 501.4,282.4 501.8,282.4 502.2,282.5 502.6,282.4 503.0,282.3 503.4,282.2 503.8,282.2 504.2,282.2 504.6,282.4 505.0,282.5 505.4,282.2 505.8,281.9 506.2,281.6 506.6,281.2 507.0,280.9 507.4,280.7 507.8,280.7 508.2,280.8 508.6,280.9 509.0,281.1 509.4,281.3 509.8,281.6 510.2,281.8 510.6,282.0 511.0,282.1 511.4,282.1 511.8,282.3 512.2,282.4 512.6,282.3 513.0,282.2 513.4,282.2 513.8,282.2 514.2,282.2 514.6,282.2 515.0,282.3 515.4,282.3 515.8,282.2 516.2,282.2 516.6,282.3 517.0,282.4 517.4,282.3 517.8,282.3 518.2,282.4 518.6,282.3 519.0,282.2 519.4,282.1 519.8,282.1 520.2,282.0 520.6,282.0 521.0,281.8 521.4,281.6 521.8,281.5 522.2,281.2 522.6,280.6 523.0,280.1 523.4,279.7 523.8,279.2 524.2,278.8 524.6,278.8 525.0,279.1 525.4,279.6 525.8,280.4 526.2,280.9 526.6,281.3 527.0,281.7 527.4,282.1 527.8,282.3 528.2,282.3 528.6,282.3 529.0,282.2 529.4,282.1 529.8,282.1 530.2,281.9 530.6,281.6 531.0,281.3 531.4,281.1 531.8,280.9 532.2,280.8 532.6,280.9 533.0,281.1 533.4,281.5 533.8,281.9 534.2,282.3 534.6,282.5 535.0,282.4 535.4,282.4 535.8,282.5 536.2,282.6 536.6,282.6 537.0,282.4 537.4,282.5 537.8,282.6"/>
<polyline stroke="#a0a0a0" points="36.6,245.0 37.0,245.0 37.4,245.0 37.8,244.8 38.2,244.7 38.6,244.6 39.0,244.5 39.4,244.5 39.8,244.4 40.2,244.3 40.6,244.3 41.0,244.4 41.4,244.4 41.8,244.3 42.2,244.4 42.6,244.3 43.0,244.3 43.4,244.5 43.8,244.5 44.2,244.5 44.6,244.6 45.0,244.7 45.4,244.8 45.8,244.7 46.2,244.7 46.6,244.7 47.0,244.8 47.4,244.8 47.8,244.7 48.2,244.6 48.6,244.6 49.0,244.5 49.4,244.6 49.8,244.7 50.2,244.6 50.6,244.6 51.0,244.7 51.4,244.6 51.8,244.4 52.2,244.5 52.6,244.7 53.0,244.7 53.4,244.7 53.8,244.7 54.2,244.7 54.6,244.7 55.0,244.7 55.4,244.7 55.8,244.6 56.2,244.6 56.6,244.6 57.0,244.6 57.4,244.6 57.8,244.4 58.2,244.3 58.6,244.3 59.0,244.3 59.4,244.4 59.8,244.5 60.2,244.5 60.6,244.5 61.0,244.6 61.4,244.6 61.8,244.6 62.2,244.5 62.6,244.6 63.0,244.7 63.4,244.6 63.8,244.4 64.2,244.3 64.6,244.5 65.0,244.6 65.4,244.5 65.8,244.2 66.2,244.2 66.6,244.6 67.0,244.7 67.4,244.5 67.8,244.5 68.2,244.6 68.6,244.6 69.0,244.5 69.4,244.4 69.8,244.4 70.2,244.5 70.6,244.5 71.0,244.6 71.4,244.6 71.8,244.4 72.2,244.3 72.6,244.4 73.0,244.4 73.4,244.4 73.8,244.3 74.2,244.3 74.6,244.3 75.0,244.4 75.4,244.3 75.8,244.2 76.2,244.1 76.6,244.1 77.0,244.1 77.4,244.1 77.8,244.2 78.2,244.0 78.6,243.9 79.0,243.8 79.4,243.8 79.8,243.5 80.2,243.2 80.6,243.2 81.0,243.2 81.4,243.1 81.8,242.9 82.2,242.8 82.6,242.6 83.0,242.4 83.4,242.3 83.8,242.2 84.2,242.0 84.6,241.7 85.0,241.3 85.4,240.8 85.8,240.2 86.2,239.3 86.6,238.1 87.0,236.6 87.4,234.7 87.8,232.1 88.2,229.2 88.6,227.1 89.0,227.5 89.4,233.0 89.8,237.5 90.2,239.9 90.6,241.2 91.0,242.1 91.4,242.7 91.8,243.0 92.2,243.2 92.6,243.3 93.0,243.5 93.4,243.7 93.8,243.8 94.2,244.0 94.6,244.0 95.0,243.9 95.4,244.0 95.8,244.1 96.2,244.2 96.6,244.4 97.0,244.4 97.4,244.3 97.8,244.2 98.2,244.2 98.6,244.2 99.0,244.3 99.4,244.2 99.8,244.2 100.2,244.2 100.6,244.2 101.0,244.1 101.4,244.0 101.8,244.1 102.2,244.2 102.6,244.3 103.0,244.3 103.4,244.2 103.8,244.2 104.2,244.1 104.6,244.1 105.0,244.0 105.4,244.1 105.8,244.1 106.2,244.0 106.6,243.9 107.0,243.9 107.4,243.9 107.8,244.0 108.2,244.0 108.6,244.1 109.0,244.1 109.4,244.0 109.8,243.9 110.2,244.0 110.6,243.9 111.0,243.9 111.4,243.9 111.8,243.9 112.2,244.0 112.6,244.1 113.0,244.0 113.4,243.9 113.8,244.0 114.2,244.1 114.6,244.0 115.0,243.8 115.4,243.8 115.8,243.8 116.2,243.7 116.6,243.5 117.0,243.5 117.4,243.5 117.8,243.3 118.2,243.3 118.6,243.4 119.0,243.5 119.4,243.5 119.8,243.3 120.2,243.2 120.6,243.1 121.0,242.9 121.4,242.7 121.8,242.4 122.2,242.0 122.6,241.6 123.0,241.1 123.4,240.2 123.8,239.3 124.2,238.1 124.6,236.2 125.0,234.1 125.4,232.4 125.8,232.1 126.2,235.2 126.6,238.5 127.0,240.6 127.4,241.7 127.8,242.2 128.2,242.6 128.6,242.9 129.0,243.0 129.4,243.1 129.8,243.3 130.2,243.2 130.6,243.2 131.0,243.2 131.4,243.2 131.8,243.2 132.2,243.2 132.6,243.1 133.0,243.1 133.4,243.2 133.8,243.2 134.2,243.2 134.6,243.3 135.0,243.3 135.4,243.2 135.8,243.0 136.2,242.8 136.6,242.8 137.0,242.7 137.4,242.3 137.8,241.7 138.2,241.2 138.6,240.7 139.0,240.3 139.4,240.7 139.8,241.7 140.2,242.5 140.6,242.9 141.0,243.1 141.4,243.3 141.8,243.5 142.2,243.6 142.6,243.5 143.0,243.6 143.4,243.7 143.8,243.7 144.2,243.6 144.6,243.5 145.0,243.5 145.4,243.4 145.8,243.2 146.2,243.3 146.6,243.3 147.0,243.3 147.4,243.3 147.8,243.4 148.2,243.5 148.6,243.5 149.0,243.5 149.4,243.4 149.8,243.4 150.2,243.3 150.6,243.4 151.0,243.5 151.4,243.6 151.8,243.5 152.2,243.4 152.6,243.3 153.0,243.2 153.4,243.1 153.8,243.0 154.2,243.0 154.6,243.0 155.0,242.7 155.4,242.5 155.8,242.5 156.2,242.4 156.6,242.1 157.0,241.7 157.4,241.2 157.8,240.8 158.2,240.3 158.6,239.3 159.0,237.8 159.4,235.8 159.8,233.5 160.2,231.2 160.6,229.9 161.0,231.4 161.4,235.2 161.8,238.1 162.2,240.0 162.6,241.1 163.0,241.7 163.4,242.1 163.8,242.3 164.2,242.4 164.6,242.6 165.0,242.9 165.4,243.1 165.8,243.2 166.2,243.2 166.6,243.2 167.0,243.1 167.4,243.1 167.8,243.3 168.2,243.4 168.6,243.3 169.0,243.2 169.4,243.3 169.8,243.4 170.2,243.4 170.6,243.4 171.0,243.4 171.4,243.3 171.8,243.1 172.2,243.1 172.6,243.1 173.0,242.9 173.4,242.8 173.8,242.8 174.2,242.6 174.6,242.5 175.0,242.6 175.4,242.6 175.8,242.4 176.2,242.1 176.6,241.9 177.0,241.8 177.4,241.8 177.8,241.6 178.2,241.3 178.6,240.8 179.0,240.2 179.4,239.4 179.8,238.4 180.2,236.9 180.6,234.7 181.0,231.9 181.4,228.3 181.8,224.4 182.2,221.4 182.6,222.0 183.0,227.6 183.4,233.2 183.8,236.8 184.2,239.0 184.6,240.3 185.0,241.0 185.4,241.4 185.8,242.0 186.2,242.3 186.6,242.5 187.0,242.7 187.4,242.9 187.8,243.0 188.2,243.1 188.6,243.2 189.0,243.1 189.4,243.0 189.8,243.1 190.2,243.0 190.6,242.9 191.0,242.9 191.4,242.8 191.8,242.6 192.2,242.5 192.6,242.5 193.0,242.5 193.4,242.6 193.8,242.4 194.2,242.0 194.6,241.7 195.0,241.6 195.4,241.3 195.8,241.1 196.2,241.3 196.6,241.8 197.0,242.2 197.4,242.6 197.8,242.8 198.2,242.9 198.6,242.8 199.0,242.8 199.4,242.9 199.8,242.8 200.2,242.8 200.6,242.7 201.0,242.7 201.4,242.6 201.8,242.5 202.2,242.3 202.6,242.2 203.0,242.1 203.4,241.9 203.8,241.7 204.2,241.4 204.6,241.1 205.0,240.9 205.4,240.8 205.8,240.5 206.2,239.9 206.6,239.3 207.0,238.7 207.4,238.1 207.8,237.1 208.2,235.8 208.6,234.0 209.0,231.4 209.4,227.7 209.8,222.4 210.2,215.3 210.6,206.3 211.0,197.4 211.4,192.7 211.8,197.1 212.2,208.8 212.6,219.9 213.0,227.9 213.4,233.0 213.8,236.2 214.2,238.3 214.6,239.5 215.0,240.3 215.4,240.8 215.8,241.2 216.2,241.6 216.6,241.9 217.0,242.2 217.4,242.4 217.8,242.4 218.2,242.5 218.6,242.6 219.0,242.7 219.4,242.7 219.8,242.7 220.2,242.9 220.6,242.9 221.0,242.9 221.4,243.0 221.8,243.0 222.2,243.0 222.6,243.0 223.0,243.1 223.4,243.1 223.8,243.1 224.2,243.0 224.6,242.9 225.0,242.9 225.4,242.8 225.8,242.7 226.2,242.6 226.6,242.6 227.0,242.5 227.4,242.3 227.8,242.1 228.2,242.0 228.6,241.9 229.0,241.6 229.4,241.1 229.8,240.5 230.2,240.1 230.6,240.1 231.0,240.5 231.4,241.2 231.8,241.7 232.2,242.1 232.6,242.3 233.0,242.3 233.4,242.3 233.8,242.2 234.2,242.1 234.6,242.0 235.0,241.9 235.4,241.6 235.8,241.2 236.2,240.8 236.6,240.4 237.0,239.6 237.4,238.4 237.8,236.8 238.2,234.8 238.6,232.9 239.0,231.8 239.4,231.9 239.8,233.7 240.2,236.1 240.6,238.4 241.0,240.0 241.4,241.1 241.8,241.8 242.2,242.2 242.6,242.5 243.0,242.7 243.4,242.8 243.8,243.0 244.2,243.1 244.6,243.0 245.0,243.0 245.4,243.0 245.8,243.1 246.2,243.2 246.6,243.0 247.0,242.9 247.4,243.0 247.8,243.0 248.2,242.9 248.6,242.9 249.0,242.9 249.4,242.8 249.8,242.9 250.2,242.8 250.6,242.6 251.0,242.5 251.4,242.7 251.8,242.9 252.2,242.9 252.6,242.7 253.0,242.6 253.4,242.7 253.8,242.7 254.2,242.6 254.6,242.5 255.0,242.3 255.4,242.1 255.8,241.8 256.2,241.6 256.6,241.4 257.0,241.2 257.4,240.9 257.8,240.4 258.2,239.8 258.6,239.0 259.0,238.1 259.4,236.8 259.8,235.0 260.2,232.7 260.6,229.5 261.0,225.3 261.4,220.8 261.8,216.9 262.2,215.1 262.6,216.6 263.0,220.8 263.4,226.0 263.8,230.8 264.2,234.6 264.6,237.2 265.0,238.6 265.4,239.4 265.8,240.0 266.2,240.0 266.6,239.7 267.0,239.4 267.4,238.8 267.8,237.8 268.2,236.4 268.6,234.5 269.0,232.3 269.4,230.2 269.8,229.1 270.2,229.5 270.6,231.4 271.0,233.8 271.4,236.4 271.8,238.7 272.2,240.4 272.6,241.3 273.0,241.7 273.4,242.1 273.8,242.6 274.2,242.8 274.6,242.9 275.0,243.0 275.4,243.0 275.8,243.0 276.2,243.0 276.6,242.9 277.0,242.8 277.4,242.9 277.8,243.1 278.2,243.2 278.6,243.2 279.0,243.2 279.4,243.2 279.8,243.3 280.2,243.4 280.6,243.3 281.0,243.3 281.4,243.4 281.8,243.5 282.2,243.5 282.6,243.5 283.0,243.4 283.4,243.2 283.8,243.2 284.2,243.4 284.6,243.5 285.0,243.2 285.4,243.0 285.8,243.0 286.2,242.9 286.6,242.8 287.0,242.6 287.4,242.3 287.8,241.8 288.2,241.4 288.6,241.0 289.0,240.6 289.4,240.5 289.8,240.5 290.2,240.8 290.6,241.2 291.0,241.7 291.4,242.0 291.8,242.3 292.2,242.6 292.6,242.7 293.0,242.6 293.4,242.4 293.8,242.3 294.2,242.1 294.6,241.6 295.0,241.0 295.4,240.1 295.8,239.0 296.2,238.0 296.6,237.0 297.0,236.4 297.4,236.5 297.8,237.2 298.2,238.2 298.6,239.3 299.0,240.2 299.4,241.2 299.8,242.1 300.2,242.6 300.6,242.9 301.0,243.1 301.4,243.2 301.8,243.3 302.2,243.4 302.6,243.5 303.0,243.4 303.4,243.3 303.8,243.2 304.2,243.3 304.6,243.4 305.0,243.3 305.4,243.3 305.8,243.3 306.2,243.3 306.6,243.2 307.0,243.2 307.4,243.3 307.8,243.3 308.2,243.2 308.6,243.1 309.0,243.1 309.4,243.1 309.8,243.0 310.2,242.8 310.6,242.8 311.0,242.8 311.4,242.9 311.8,242.8 312.2,242.6 312.6,242.7 313.0,242.7 313.4,242.6 313.8,242.5 314.2,242.3 314.6,242.2 315.0,242.1 315.4,242.1 315.8,242.0 316.2,241.7 316.6,241.4 317.0,241.1 317.4,240.8 317.8,240.4 318.2,239.8 318.6,238.7 319.0,236.8 319.4,234.1 319.8,230.2 320.2,225.3 320.6,219.7 321.0,213.9 321.4,208.9 321.8,206.1 322.2,206.2 322.6,209.7 323.0,215.3 323.4,221.5 323.8,227.1 324.2,231.8 324.6,235.1 325.0,237.3 325.4,238.4 325.8,238.8 326.2,238.5 326.6,237.4 327.0,235.4 327.4,232.6 327.8,229.0 328.2,225.4 328.6,222.2 329.0,219.9 329.4,219.5 329.8,221.0 330.2,224.1 330.6,227.9 331.0,231.7 331.4,235.0 331.8,237.4 332.2,239.0 332.6,239.8 333.0,240.2 333.4,240.1 333.8,239.5 334.2,238.9 334.6,238.3 335.0,237.8 335.4,238.0 335.8,238.7 336.2,239.5 336.6,240.5 337.0,241.5 337.4,242.1 337.8,242.4 338.2,242.6 338.6,242.8 339.0,242.9 339.4,243.0 339.8,242.9 340.2,242.7 340.6,242.6 341.0,242.4 341.4,242.2 341.8,241.8 342.2,241.4 342.6,241.2 343.0,241.3 343.4,241.6 343.8,242.0 344.2,242.3 344.6,242.4 345.0,242.5 345.4,242.8 345.8,243.0 346.2,243.0 346.6,243.2 347.0,243.3 347.4,243.2 347.8,243.1 348.2,243.3 348.6,243.5 349.0,243.4 349.4,243.4 349.8,243.4 350.2,243.4 350.6,243.3 351.0,243.2 351.4,243.2 351.8,243.3 352.2,243.2 352.6,243.1 353.0,243.0 353.4,242.9 353.8,242.6 354.2,242.6 354.6,242.3 355.0,241.8 355.4,241.4 355.8,241.4 356.2,241.4 356.6,241.4 357.0,241.7 357.4,242.1 357.8,242.4 358.2,242.8 358.6,243.0 359.0,243.1 359.4,243.3 359.8,243.4 360.2,243.2 360.6,243.1 361.0,243.1 361.4,243.1 361.8,242.8 362.2,242.4 362.6,241.9 363.0,241.3 363.4,240.3 363.8,238.9 364.2,237.6 364.6,236.5 365.0,236.1 365.4,236.7 365.8,238.0 366.2,239.5 366.6,240.8 367.0,241.5 367.4,242.1 367.8,242.5 368.2,242.7 368.6,242.5 369.0,242.2 369.4,241.9 369.8,241.5 370.2,241.1 370.6,240.9 371.0,240.8 371.4,241.2 371.8,241.6 372.2,241.9 372.6,242.5 373.0,243.0 373.4,243.1 373.8,243.3 374.2,243.3 374.6,243.3 375.0,243.3 375.4,243.5 375.8,243.4 376.2,243.4 376.6,243.5 377.0,243.7 377.4,243.7 377.8,243.7 378.2,243.7 378.6,243.6 379.0,243.5 379.4,243.5 379.8,243.6 380.2,243.6 380.6,243.5 381.0,243.5 381.4,243.4 381.8,243.3 382.2,243.0 382.6,242.8 383.0,242.7 383.4,242.2 383.8,241.3 384.2,240.3 384.6,239.2 385.0,238.4 385.4,238.2 385.8,238.7 386.2,239.6 386.6,240.6 387.0,241.4 387.4,242.1 387.8,242.8 388.2,243.1 388.6,243.2 389.0,243.3 389.4,243.3 389.8,243.2 390.2,243.2 390.6,243.3 391.0,243.3 391.4,243.2 391.8,243.4 392.2,243.6 392.6,243.6 393.0,243.6 393.4,243.7 393.8,243.9 394.2,243.9 394.6,243.9 395.0,243.9 395.4,243.8 395.8,243.7 396.2,243.6 396.6,243.7 397.0,243.8 397.4,243.8 397.8,243.8 398.2,243.7 398.6,243.6 399.0,243.5 399.4,243.5 399.8,243.6 400.2,243.7 400.6,243.5 401.0,243.5 401.4,243.6 401.8,243.7 402.2,243.8 402.6,243.9 403.0,243.8 403.4,243.9 403.8,243.8 404.2,243.6 404.6,243.6 405.0,243.8 405.4,243.9 405.8,243.8 406.2,243.6 406.6,243.5 407.0,243.4 407.4,243.4 407.8,243.4 408.2,243.4 408.6,243.5 409.0,243.6 409.4,243.8 409.8,243.8 410.2,243.8 410.6,243.7 411.0,243.7 411.4,243.7 411.8,243.7 412.2,243.6 412.6,243.6 413.0,243.6 413.4,243.5 413.8,243.6 414.2,243.7 414.6,243.6 415.0,243.5 415.4,243.5 415.8,243.4 416.2,243.3 416.6,243.3 417.0,243.2 417.4,243.2 417.8,243.1 418.2,242.9 418.6,242.7 419.0,242.5 419.4,242.3 419.8,242.3 420.2,242.4 420.6,242.6 421.0,242.9 421.4,243.0 421.8,243.2 422.2,243.3 422.6,243.3 423.0,243.4 423.4,243.5 423.8,243.6 424.2,243.5 424.6,243.5 425.0,243.5 425.4,243.5 425.8,243.5 426.2,243.5 426.6,243.4 427.0,243.4 427.4,243.5 427.8,243.6 428.2,243.6 428.6,243.6 429.0,243.6 429.4,243.5 429.8,243.6 430.2,243.5 430.6,243.4 431.0,243.5 431.4,243.6 431.8,243.7 432.2,243.7 432.6,243.9 433.0,243.9 433.4,243.9 433.8,243.9 434.2,244.0 434.6,243.9 435.0,244.0 435.4,244.0 435.8,243.9 436.2,243.8 436.6,243.8 437.0,243.7 437.4,243.6 437.8,243.6 438.2,243.6 438.6,243.6 439.0,243.4 439.4,243.3 439.8,243.2 440.2,243.4 440.6,243.6 441.0,243.5 441.4,243.5 441.8,243.6 442.2,243.6 442.6,243.5 443.0,243.4 443.4,243.4 443.8,243.3 444.2,243.1 444.6,243.2 445.0,243.3 445.4,243.3 445.8,243.3 446.2,243.5 446.6,243.5 447.0,243.4 447.4,243.4 447.8,243.5 448.2,243.7 448.6,243.8 449.0,243.7 449.4,243.7 449.8,243.6 450.2,243.7 450.6,243.7 451.0,243.7 451.4,243.7 451.8,243.7 452.2,243.7 452.6,243.6 453.0,243.6 453.4,243.6 453.8,243.7 454.2,243.6 454.6,243.4 455.0,243.4 455.4,243.4 455.8,243.4 456.2,243.5 456.6,243.5 457.0,243.5 457.4,243.6 457.8,243.7 458.2,243.6 458.6,243.5 459.0,243.4 459.4,243.4 459.8,243.4 460.2,243.5 460.6,243.5 461.0,243.4 461.4,243.3 461.8,243.2 462.2,243.0 462.6,243.0 463.0,242.8 463.4,242.5 463.8,242.1 464.2,241.7 464.6,241.2 465.0,240.9 465.4,240.8 465.8,241.0 466.2,241.3 466.6,241.7 467.0,242.2 467.4,242.7 467.8,242.9 468.2,243.0 468.6,243.3 469.0,243.4 469.4,243.4 469.8,243.5 470.2,243.5 470.6,243.5 471.0,243.6 471.4,243.6 471.8,243.5 472.2,243.7 472.6,243.8 473.0,243.8 473.4,243.7 473.8,243.5 474.2,243.5 474.6,243.5 475.0,243.7 475.4,243.7 475.8,243.7 476.2,243.6 476.6,243.5 477.0,243.5 477.4,243.5 477.8,243.5 478.2,243.6 478.6,243.6 479.0,243.4 479.4,243.4 479.8,243.6 480.2,243.7 480.6,243.7 481.0,243.7 481.4,243.6 481.8,243.6 482.2,243.6 482.6,243.5 483.0,243.4 483.4,243.3 483.8,243.2 484.2,243.2 484.6,243.2 485.0,243.3 485.4,243.3 485.8,243.3 486.2,243.3 486.6,243.3 487.0,243.3 487.4,243.4 487.8,243.5 488.2,243.4 488.6,243.4 489.0,243.6 489.4,243.7 489.8,243.6 490.2,243.5 490.6,243.5 491.0,243.3 491.4,243.3 491.8,243.5 492.2,243.6 492.6,243.5 493.0,243.5 493.4,243.4 493.8,243.2 494.2,243.3 494.6,243.4 495.0,243.5 495.4,243.6 495.8,243.5 496.2,243.4 496.6,243.5 497.0,243.6 497.4,243.6 497.8,243.6 498.2,243.7 498.6,243.6 499.0,243.5 499.4,243.4 499.8,243.4 500.2,243.6 500.6,243.6 501.0,243.5 501.4,243.7 501.8,243.8 502.2,243.7 502.6,243.7 503.0,243.7 503.4,243.8 503.8,243.8 504.2,243.6 504.6,243.5 505.0,243.6 505.4,243.4 505.8,243.3 506.2,243.1 506.6,243.1 507.0,243.1 507.4,242.8 507.8,242.6 508.2,242.5 508.6,242.2 509.0,241.8 509.4,241.4 509.8,241.3 510.2,241.4 510.6,241.6 511.0,241.8 511.4,242.2 511.8,242.7 512.2,243.0 512.6,243.1 513.0,243.2 513.4,243.2 513.8,243.4 514.2,243.5 514.6,243.5 515.0,243.5 515.4,243.4 515.8,243.5 516.2,243.5 516.6,243.5 517.0,243.4 517.4,243.4 517.8,243.4 518.2,243.5 518.6,243.5 519.0,243.5 519.4,243.5 519.8,243.5 520.2,243.6 520.6,243.5 521.0,243.4 521.4,243.4 521.8,243.3 522.2,243.4 522.6,243.4 523.0,243.4 523.4,243.2 523.8,243.0 524.2,242.7 524.6,242.4 525.0,242.0 525.4,241.5 525.8,241.0 526.2,240.4 526.6,240.1 527.0,239.8 527.4,240.0 527.8,240.4 528.2,241.1 528.6,241.7 529.0,242.1 529.4,242.4 529.8,242.7 530.2,243.0 530.6,243.2 531.0,243.2 531.4,243.2 531.8,243.2 532.2,243.2 532.6,243.0 533.0,242.7 533.4,242.4 533.8,242.1 534.2,241.8 534.6,241.7 535.0,241.8 535.4,242.1 535.8,242.4 536.2,242.7 536.6,242.9 537.0,243.2 537.4,243.3 537.8,243.4"/>
<polyline stroke="#fbb116" points="36.6,194.5 37.0,194.5 37.4,194.6 37.8,194.6 38.2,194.5 38.6,194.4 39.0,194.4 39.4,194.4 39.8,194.4 40.2,194.2 40.6,194.0 41.0,194.1 41.4,194.2 41.8,194.3 42.2,194.3 42.6,194.3 43.0,194.3 43.4,194.3 43.8,194.4 44.2,194.5 44.6,194.5 45.0,194.6 45.4,194.6 45.8,194.5 46.2,194.5 46.6,194.5 47.0,194.6 47.4,194.7 47.8,194.7 48.2,194.7 48.6,194.7 49.0,194.6 49.4,194.4 49.8,194.2 50.2,194.2 50.6,194.2 51.0,194.3 51.4,194.3 51.8,194.3 52.2,194.4 52.6,194.5 53.0,194.6 53.4,194.6 53.8,194.7 54.2,194.7 54.6,194.7 55.0,194.7 55.4,194.8 55.8,194.9 56.2,194.7 56.6,194.4 57.0,194.3 57.4,194.4 57.8,194.4 58.2,194.4 58.6,194.5 59.0,194.4 59.4,194.3 59.8,194.4 60.2,194.5 60.6,194.5 61.0,194.5 61.4,194.5 61.8,194.5 62.2,194.6 62.6,194.6 63.0,194.5 63.4,194.4 63.8,194.4 64.2,194.4 64.6,194.3 65.0,194.4 65.4,194.4 65.8,194.4 66.2,194.4 66.6,194.2 67.0,194.2 67.4,194.2 67.8,194.2 68.2,194.2 68.6,194.2 69.0,194.3 69.4,194.2 69.8,194.1 70.2,194.2 70.6,194.1 71.0,193.9 71.4,194.0 71.8,194.1 72.2,194.1 72.6,194.0 73.0,194.0 73.4,194.1 73.8,194.1 74.2,194.1 74.6,194.1 75.0,194.1 75.4,194.2 75.8,194.2 76.2,194.1 76.6,194.0 77.0,194.1 77.4,194.2 77.8,194.3 78.2,194.1 78.6,194.1 79.0,194.2 79.4,194.2 79.8,194.0 80.2,193.8 80.6,193.7 81.0,193.5 81.4,193.2 81.8,193.0 82.2,192.9 82.6,192.7 83.0,192.3 83.4,191.9 83.8,191.3 84.2,190.5 84.6,189.6 85.0,188.5 85.4,186.9 85.8,185.1 86.2,183.2 86.6,182.0 87.0,183.5 87.4,187.7 87.8,190.5 88.2,191.9 88.6,192.7 89.0,193.3 89.4,193.7 89.8,193.8 90.2,193.8 90.6,193.9 91.0,194.1 91.4,194.2 91.8,194.2 92.2,194.4 92.6,194.4 93.0,194.3 93.4,194.3 93.8,194.4 94.2,194.3 94.6,194.3 95.0,194.3 95.4,194.2 95.8,194.1 96.2,194.2 96.6,194.3 97.0,194.3 97.4,194.2 97.8,194.0 98.2,194.1 98.6,194.3 99.0,194.2 99.4,194.1 99.8,194.1 100.2,194.2 100.6,194.0 101.0,194.2 101.4,194.2 101.8,194.1 102.2,194.1 102.6,194.2 103.0,194.2 103.4,194.3 103.8,194.3 104.2,194.2 104.6,194.2 105.0,194.2 105.4,194.2 105.8,194.2 106.2,194.2 106.6,194.0 107.0,194.0 107.4,194.0 107.8,194.0 108.2,194.0 108.6,194.2 109.0,194.2 109.4,194.1 109.8,194.2 110.2,194.3 110.6,194.3 111.0,194.2 111.4,194.2 111.8,194.1 112.2,194.1 112.6,194.2 113.0,194.3 113.4,194.4 113.8,194.3 114.2,194.2 114.6,194.4 115.0,194.5 115.4,194.4 115.8,194.2 116.2,194.2 116.6,194.3 117.0,194.2 117.4,194.2 117.8,194.2 118.2,194.0 118.6,194.0 119.0,194.0 119.4,194.0 119.8,193.9 120.2,193.8 120.6,193.8 121.0,193.7 121.4,193.5 121.8,193.2 122.2,192.9 122.6,192.5 123.0,191.9 123.4,191.3 123.8,190.7 124.2,190.2 124.6,190.3 125.0,191.6 125.4,192.7 125.8,193.3 126.2,193.6 126.6,193.7 127.0,193.8 127.4,193.7 127.8,193.6 128.2,193.8 128.6,193.8 129.0,193.8 129.4,193.9 129.8,193.8 130.2,193.7 130.6,193.7 131.0,193.9 131.4,194.0 131.8,193.9 132.2,193.8 132.6,194.0 133.0,194.2 133.4,194.0 133.8,193.9 134.2,193.9 134.6,194.0 135.0,193.9 135.4,193.9 135.8,193.9 136.2,194.1 136.6,194.0 137.0,194.1 137.4,194.2 137.8,194.1 138.2,193.9 138.6,193.9 139.0,193.8 139.4,193.8 139.8,193.9 140.2,193.9 140.6,194.0 141.0,194.2 141.4,194.2 141.8,194.2 142.2,194.2 142.6,194.3 143.0,194.3 143.4,194.3 143.8,194.2 144.2,194.3 144.6,194.2 145.0,194.2 145.4,194.2 145.8,194.1 146.2,194.1 146.6,194.1 147.0,194.1 147.4,194.1 147.8,194.1 148.2,193.9 148.6,193.9 149.0,193.9 149.4,193.9 149.8,193.8 150.2,193.8 150.6,193.7 151.0,193.8 151.4,193.9 151.8,193.9 152.2,193.7 152.6,193.7 153.0,193.7 153.4,193.7 153.8,193.7 154.2,193.7 154.6,193.6 155.0,193.3 155.4,193.0 155.8,192.9 156.2,192.5 156.6,192.0 157.0,191.4 157.4,190.7 157.8,189.6 158.2,188.2 158.6,186.8 159.0,186.1 159.4,186.8 159.8,189.0 160.2,190.9 160.6,192.0 161.0,192.6 161.4,193.1 161.8,193.4 162.2,193.5 162.6,193.7 163.0,193.8 163.4,193.7 163.8,193.6 164.2,193.6 164.6,193.7 165.0,193.7 165.4,193.5 165.8,193.5 166.2,193.7 166.6,193.7 167.0,193.8 167.4,193.8 167.8,193.6 168.2,193.8 168.6,193.9 169.0,193.8 169.4,193.8 169.8,193.9 170.2,193.9 170.6,193.9 171.0,193.8 171.4,193.6 171.8,193.7 172.2,193.7 172.6,193.6 173.0,193.5 173.4,193.4 173.8,193.3 174.2,193.1 174.6,192.9 175.0,192.9 175.4,192.7 175.8,192.5 176.2,192.1 176.6,191.7 177.0,191.3 177.4,190.6 177.8,189.6 178.2,188.2 178.6,186.3 179.0,183.9 179.4,181.3 179.8,179.6 180.2,180.5 180.6,184.2 181.0,187.6 181.4,189.8 181.8,191.2 182.2,192.0 182.6,192.5 183.0,192.7 183.4,193.0 183.8,193.2 184.2,193.3 184.6,193.3 185.0,193.3 185.4,193.3 185.8,193.4 186.2,193.4 186.6,193.3 187.0,193.2 187.4,193.3 187.8,193.3 188.2,193.3 188.6,193.2 189.0,193.2 189.4,193.2 189.8,193.1 190.2,193.0 190.6,193.0 191.0,192.9 191.4,192.5 191.8,192.1 192.2,191.9 192.6,191.6 193.0,191.4 193.4,191.5 193.8,192.0 194.2,192.6 194.6,192.9 195.0,192.9 195.4,193.0 195.8,193.1 196.2,193.2 196.6,193.3 197.0,193.3 197.4,193.3 197.8,193.2 198.2,193.1 198.6,193.0 199.0,193.0 199.4,193.1 199.8,193.2 200.2,193.1 200.6,193.1 201.0,193.1 201.4,193.1 201.8,193.0 202.2,193.0 202.6,192.8 203.0,192.7 203.4,192.6 203.8,192.6 204.2,192.3 204.6,192.0 205.0,191.8 205.4,191.4 205.8,191.0 206.2,190.5 206.6,189.8 207.0,188.6 207.4,187.0 207.8,184.9 208.2,181.8 208.6,177.8 209.0,172.8 209.4,167.6 209.8,164.3 210.2,166.3 210.6,173.1 211.0,179.7 211.4,184.4 211.8,187.3 212.2,189.1 212.6,190.1 213.0,190.8 213.4,191.5 213.8,192.0 214.2,192.3 214.6,192.6 215.0,192.8 215.4,192.9 215.8,192.8 216.2,192.8 216.6,193.0 217.0,193.1 217.4,193.2 217.8,193.4 218.2,193.5 218.6,193.6 219.0,193.7 219.4,193.7 219.8,193.8 220.2,194.0 220.6,193.9 221.0,193.7 221.4,193.7 221.8,193.7 222.2,193.7 222.6,193.7 223.0,193.5 223.4,193.4 223.8,193.5 224.2,193.4 224.6,193.3 225.0,193.2 225.4,193.0 225.8,192.9 226.2,192.9 226.6,192.8 227.0,192.5 227.4,192.1 227.8,191.8 228.2,191.6 228.6,191.5 229.0,191.5 229.4,191.7 229.8,192.1 230.2,192.5 230.6,192.6 231.0,192.7 231.4,192.8 231.8,192.8 232.2,192.7 232.6,192.7 233.0,192.6 233.4,192.2 233.8,191.8 234.2,191.4 234.6,190.8 235.0,189.9 235.4,188.7 235.8,187.1 236.2,185.3 236.6,183.5 237.0,182.4 237.4,183.0 237.8,185.0 238.2,187.4 238.6,189.4 239.0,190.8 239.4,191.6 239.8,192.1 240.2,192.5 240.6,192.8 241.0,193.0 241.4,193.1 241.8,193.1 242.2,193.3 242.6,193.4 243.0,193.5 243.4,193.6 243.8,193.6 244.2,193.5 244.6,193.5 245.0,193.6 245.4,193.6 245.8,193.5 246.2,193.6 246.6,193.6 247.0,193.7 247.4,193.8 247.8,193.8 248.2,193.8 248.6,193.9 249.0,193.8 249.4,193.6 249.8,193.5 250.2,193.6 250.6,193.6 251.0,193.5 251.4,193.4 251.8,193.2 252.2,193.1 252.6,193.0 253.0,192.8 253.4,192.6 253.8,192.5 254.2,192.4 254.6,192.2 255.0,191.8 255.4,191.5 255.8,191.3 256.2,191.2 256.6,190.7 257.0,189.8 257.4,188.6 257.8,187.1 258.2,185.1 258.6,182.6 259.0,179.7 259.4,176.9 259.8,175.1 260.2,175.7 260.6,178.3 261.0,181.8 261.4,185.2 261.8,187.9 262.2,189.7 262.6,190.9 263.0,191.5 263.4,191.9 263.8,192.1 264.2,192.4 264.6,192.5 265.0,192.4 265.4,192.2 265.8,192.0 266.2,191.5 266.6,191.0 267.0,190.1 267.4,189.2 267.8,188.5 268.2,188.2 268.6,188.5 269.0,189.2 269.4,190.1 269.8,191.0 270.2,192.0 270.6,192.6 271.0,193.0 271.4,193.2 271.8,193.4 272.2,193.5 272.6,193.5 273.0,193.5 273.4,193.5 273.8,193.6 274.2,193.7 274.6,193.7 275.0,193.6 275.4,193.7 275.8,193.8 276.2,193.9 276.6,194.0 277.0,194.0 277.4,194.0 277.8,194.0 278.2,194.0 278.6,194.1 279.0,194.1 279.4,194.0 279.8,194.0 280.2,194.1 280.6,194.0 281.0,193.9 281.4,193.8 281.8,193.8 282.2,193.7 282.6,193.7 283.0,193.9 283.4,193.8 283.8,193.7 284.2,193.6 284.6,193.4 285.0,193.0 285.4,192.7 285.8,192.6 286.2,192.4 286.6,192.1 287.0,191.6 287.4,191.3 287.8,191.1 288.2,191.1 288.6,191.6 289.0,192.0 289.4,192.1 289.8,192.4 290.2,192.7 290.6,192.9 291.0,193.0 291.4,193.0 291.8,192.7 292.2,192.4 292.6,191.9 293.0,191.3 293.4,190.6 293.8,189.7 294.2,188.8 294.6,188.1 295.0,187.8 295.4,188.0 295.8,188.8 296.2,189.8 296.6,190.6 297.0,191.3 297.4,191.9 297.8,192.5 298.2,192.8 298.6,192.9 299.0,193.1 299.4,193.2 299.8,193.3 300.2,193.3 300.6,193.4 301.0,193.5 301.4,193.4 301.8,193.4 302.2,193.6 302.6,193.7 303.0,193.5 303.4,193.5 303.8,193.7 304.2,193.8 304.6,193.8 305.0,193.9 305.4,193.9 305.8,193.8 306.2,193.7 306.6,193.8 307.0,193.8 307.4,193.6 307.8,193.6 308.2,193.7 308.6,193.6 309.0,193.4 309.4,193.2 309.8,193.1 310.2,193.1 310.6,193.1 311.0,193.1 311.4,193.1 311.8,193.0 312.2,193.0 312.6,193.0 313.0,193.0 313.4,192.9 313.8,192.7 314.2,192.5 314.6,192.4 315.0,192.4 315.4,192.3 315.8,191.9 316.2,191.3 316.6,190.7 317.0,189.6 317.4,187.8 317.8,185.4 318.2,182.2 318.6,178.4 319.0,174.3 319.4,170.5 319.8,168.0 320.2,167.5 320.6,169.4 321.0,173.0 321.4,177.2 321.8,181.3 322.2,184.8 322.6,187.5 323.0,189.2 323.4,190.1 323.8,190.3 324.2,189.8 324.6,188.8 325.0,187.1 325.4,184.6 325.8,181.8 326.2,178.9 326.6,176.4 327.0,174.9 327.4,175.1 327.8,176.8 328.2,179.6 328.6,182.8 329.0,185.7 329.4,188.2 329.8,190.0 330.2,191.0 330.6,191.5 331.0,191.6 331.4,191.6 331.8,191.7 332.2,191.7 332.6,191.5 333.0,191.4 333.4,191.6 333.8,192.0 334.2,192.6 334.6,192.9 335.0,193.1 335.4,193.3 335.8,193.4 336.2,193.5 336.6,193.6 337.0,193.6 337.4,193.7 337.8,193.8 338.2,193.8 338.6,193.7 339.0,193.8 339.4,193.9 339.8,193.9 340.2,193.8 340.6,193.9 341.0,194.0 341.4,194.1 341.8,194.1 342.2,194.1 342.6,194.2 343.0,194.3 343.4,194.4 343.8,194.4 344.2,194.3 344.6,194.2 345.0,194.2 345.4,194.1 345.8,194.1 346.2,194.1 346.6,194.1 347.0,194.0 347.4,194.0 347.8,194.0 348.2,194.0 348.6,194.0 349.0,194.0 349.4,193.8 349.8,193.7 350.2,193.8 350.6,193.9 351.0,193.8 351.4,193.6 351.8,193.5 352.2,193.3 352.6,193.0 353.0,192.6 353.4,192.1 353.8,191.5 354.2,191.0 354.6,190.8 355.0,190.9 355.4,191.3 355.8,191.9 356.2,192.2 356.6,192.4 357.0,192.8 357.4,193.2 357.8,193.3 358.2,193.4 358.6,193.5 359.0,193.6 359.4,193.6 359.8,193.6 360.2,193.4 360.6,193.2 361.0,192.9 361.4,192.4 361.8,191.8 362.2,190.8 362.6,189.6 363.0,188.4 363.4,187.7 363.8,187.6 364.2,188.3 364.6,189.5 365.0,190.5 365.4,191.3 365.8,192.0 366.2,192.4 366.6,192.5 367.0,192.4 367.4,192.1 367.8,191.8 368.2,191.5 368.6,191.3 369.0,191.4 369.4,191.8 369.8,192.3 370.2,192.7 370.6,193.0 371.0,193.2 371.4,193.4 371.8,193.5 372.2,193.7 372.6,193.7 373.0,193.8 373.4,193.8 373.8,193.8 374.2,193.8 374.6,193.7 375.0,193.8 375.4,193.8 375.8,193.6 376.2,193.6 376.6,193.7 377.0,193.7 377.4,193.7 377.8,193.7 378.2,193.8 378.6,193.8 379.0,193.8 379.4,193.8 379.8,193.7 380.2,193.5 380.6,193.2 381.0,192.9 381.4,192.5 381.8,191.8 382.2,191.0 382.6,190.3 383.0,189.9 383.4,189.9 383.8,190.1 384.2,190.7 384.6,191.5 385.0,192.2 385.4,192.9 385.8,193.3 386.2,193.4 386.6,193.6 387.0,193.8 387.4,193.9 387.8,193.9 388.2,194.0 388.6,194.2 389.0,194.3 389.4,194.2 389.8,194.3 390.2,194.2 390.6,194.1 391.0,194.2 391.4,194.2 391.8,194.1 392.2,194.0 392.6,194.1 393.0,194.0 393.4,193.7 393.8,193.7 394.2,193.8 394.6,193.8 395.0,193.8 395.4,193.8 395.8,193.9 396.2,194.0 396.6,193.9 397.0,193.9 397.4,193.9 397.8,193.8 398.2,193.7 398.6,193.8 399.0,193.9 399.4,193.9 399.8,193.9 400.2,193.9 400.6,193.9 401.0,194.1 401.4,194.2 401.8,194.1 402.2,194.2 402.6,194.3 403.0,194.2 403.4,194.1 403.8,194.2 404.2,194.1 404.6,194.1 405.0,194.3 405.4,194.4 405.8,194.2 406.2,194.1 406.6,194.0 407.0,194.0 407.4,194.1 407.8,194.2 408.2,194.3 408.6,194.3 409.0,194.4 409.4,194.3 409.8,194.2 410.2,194.2 410.6,194.3 411.0,194.3 411.4,194.2 411.8,194.1 412.2,194.2 412.6,194.2 413.0,194.2 413.4,194.1 413.8,194.0 414.2,194.0 414.6,194.1 415.0,194.0 415.4,194.0 415.8,194.2 416.2,194.2 416.6,194.1 417.0,194.1 417.4,194.1 417.8,194.2 418.2,194.0 418.6,193.9 419.0,193.9 419.4,194.0 419.8,194.1 420.2,194.0 420.6,194.0 421.0,194.0 421.4,194.0 421.8,194.1 422.2,194.0 422.6,193.8 423.0,193.9 423.4,194.0 423.8,194.1 424.2,194.0 424.6,194.0 425.0,193.9 425.4,193.8 425.8,193.9 426.2,193.8 426.6,193.6 427.0,193.6 427.4,193.8 427.8,193.8 428.2,193.9 428.6,193.9 429.0,193.8 429.4,193.8 429.8,193.9 430.2,194.0 430.6,194.0 431.0,193.9 431.4,193.9 431.8,193.9 432.2,193.8 432.6,193.7 433.0,193.7 433.4,193.8 433.8,194.0 434.2,194.1 434.6,194.1 435.0,194.1 435.4,194.0 435.8,194.0 436.2,193.9 436.6,193.8 437.0,193.8 437.4,193.8 437.8,193.9 438.2,193.9 438.6,193.8 439.0,193.9 439.4,194.0 439.8,193.9 440.2,193.8 440.6,193.8 441.0,193.9 441.4,194.0 441.8,194.0 442.2,194.1 442.6,194.1 443.0,194.0 443.4,193.9 443.8,194.0 444.2,193.9 444.6,193.9 445.0,193.9 445.4,193.8 445.8,193.7 446.2,193.8 446.6,193.9 447.0,193.9 447.4,193.9 447.8,193.9 448.2,193.9 448.6,193.9 449.0,193.9 449.4,193.8 449.8,193.7 450.2,193.7 450.6,194.0 451.0,194.2 451.4,194.1 451.8,194.0 452.2,194.1 452.6,194.2 453.0,194.0 453.4,194.1 453.8,194.1 454.2,193.9 454.6,193.8 455.0,193.9 455.4,193.9 455.8,194.0 456.2,194.0 456.6,193.9 457.0,194.0 457.4,194.0 457.8,193.9 458.2,193.8 458.6,193.9 459.0,194.0 459.4,193.9 459.8,193.7 460.2,193.6 460.6,193.4 461.0,193.2 461.4,192.9 461.8,192.5 462.2,192.1 462.6,191.7 463.0,191.4 463.4,191.4 463.8,191.7 464.2,192.1 464.6,192.5 465.0,192.9 465.4,193.2 465.8,193.4 466.2,193.6 466.6,193.6 467.0,193.7 467.4,193.8 467.8,193.9 468.2,193.9 468.6,194.0 469.0,194.1 469.4,194.1 469.8,194.0 470.2,194.0 470.6,194.1 471.0,194.0 471.4,194.0 471.8,194.2 472.2,194.2 472.6,194.2 473.0,194.2 473.4,194.3 473.8,194.3 474.2,194.3 474.6,194.4 475.0,194.5 475.4,194.4 475.8,194.1 476.2,193.9 476.6,194.0 477.0,194.2 477.4,194.1 477.8,193.9 478.2,193.9 478.6,193.9 479.0,193.9 479.4,194.0 479.8,194.1 480.2,194.2 480.6,194.1 481.0,194.0 481.4,194.0 481.8,194.0 482.2,193.8 482.6,193.7 483.0,193.7 483.4,193.8 483.8,193.8 484.2,193.8 484.6,193.8 485.0,193.9 485.4,194.0 485.8,194.0 486.2,194.0 486.6,193.9 487.0,193.9 487.4,194.0 487.8,194.0 488.2,194.0 488.6,194.0 489.0,194.0 489.4,194.0 489.8,194.1 490.2,194.0 490.6,194.0 491.0,194.0 491.4,194.1 491.8,194.2 492.2,194.2 492.6,194.2 493.0,194.1 493.4,194.1 493.8,194.1 494.2,194.1 494.6,194.2 495.0,194.4 495.4,194.3 495.8,194.2 496.2,194.2 496.6,194.2 497.0,194.1 497.4,194.0 497.8,194.0 498.2,194.1 498.6,194.0 499.0,193.9 499.4,193.8 499.8,194.0 500.2,194.1 500.6,194.1 501.0,194.1 501.4,194.2 501.8,194.2 502.2,194.2 502.6,194.1 503.0,194.0 503.4,194.0 503.8,193.8 504.2,193.6 504.6,193.7 505.0,193.8 505.4,193.7 505.8,193.6 506.2,193.5 506.6,193.3 507.0,193.1 507.4,193.0 507.8,192.9 508.2,193.0 508.6,193.1 509.0,193.3 509.4,193.5 509.8,193.6 510.2,193.7 510.6,193.9 511.0,193.9 511.4,193.8 511.8,193.8 512.2,193.8 512.6,194.0 513.0,194.0 513.4,193.8 513.8,193.6 514.2,193.6 514.6,193.7 515.0,193.8 515.4,193.9 515.8,193.9 516.2,194.0 516.6,193.8 517.0,193.9 517.4,194.0 517.8,194.1 518.2,194.2 518.6,194.2 519.0,194.1 519.4,194.1 519.8,194.2 520.2,194.2 520.6,194.0 521.0,193.9 521.4,193.8 521.8,193.7 522.2,193.5 522.6,193.3 523.0,192.9 523.4,192.5 523.8,192.3 524.2,192.2 524.6,192.2 525.0,192.2 525.4,192.5 525.8,192.9 526.2,193.4 526.6,193.6 527.0,193.7 527.4,193.8 527.8,194.0 528.2,194.1 528.6,194.2 529.0,194.1 529.4,193.9 529.8,193.7 530.2,193.4 530.6,193.3 531.0,193.1 531.4,192.9 531.8,192.7 532.2,192.6 532.6,192.5 533.0,192.6 533.4,193.0 533.8,193.2 534.2,193.5 534.6,193.7 535.0,193.5 535.4,193.5 535.8,193.6 536.2,193.6 536.6,193.7 537.0,193.8 537.4,193.9 537.8,193.9"/>
<polyline stroke="#2b6cc4" points="36.6,166.2 37.0,166.1 37.4,165.9 37.8,165.9 38.2,166.0 38.6,166.1 39.0,166.0 39.4,165.9 39.8,165.9 40.2,165.9 40.6,165.8 41.0,165.8 41.4,165.7 41.8,165.8 42.2,165.8 42.6,165.9 43.0,165.9 43.4,166.0 43.8,166.0 44.2,165.9 44.6,165.9 45.0,165.9 45.4,165.8 45.8,165.9 46.2,166.0 46.6,165.9 47.0,165.8 47.4,165.7 47.8,165.6 48.2,165.7 48.6,165.8 49.0,165.9 49.4,165.8 49.8,165.7 50.2,165.6 50.6,165.7 51.0,165.7 51.4,165.7 51.8,165.8 52.2,165.8 52.6,165.8 53.0,165.9 53.4,165.8 53.8,165.7 54.2,165.7 54.6,165.8 55.0,165.7 55.4,165.8 55.8,165.8 56.2,165.8 56.6,165.7 57.0,165.6 57.4,165.5 57.8,165.5 58.2,165.5 58.6,165.5 59.0,165.4 59.4,165.3 59.8,165.4 60.2,165.3 60.6,165.2 61.0,165.3 61.4,165.3 61.8,165.1 62.2,165.1 62.6,165.2 63.0,165.3 63.4,165.3 63.8,165.2 64.2,165.3 64.6,165.3 65.0,165.3 65.4,165.2 65.8,165.2 66.2,165.2 66.6,165.1 67.0,165.1 67.4,165.2 67.8,165.2 68.2,165.1 68.6,165.1 69.0,165.0 69.4,165.0 69.8,165.1 70.2,165.0 70.6,164.9 71.0,164.9 71.4,164.9 71.8,165.0 72.2,165.1 72.6,164.9 73.0,164.8 73.4,164.8 73.8,164.9 74.2,164.9 74.6,164.9 75.0,164.8 75.4,164.9 75.8,164.8 76.2,164.8 76.6,164.8 77.0,164.7 77.4,164.4 77.8,164.4 78.2,164.5 78.6,164.4 79.0,164.3 79.4,164.4 79.8,164.3 80.2,164.2 80.6,164.1 81.0,164.0 81.4,163.9 81.8,163.9 82.2,163.7 82.6,163.3 83.0,163.1 83.4,162.8 83.8,162.5 84.2,162.1 84.6,161.6 85.0,161.0 85.4,160.1 85.8,158.9 86.2,157.1 86.6,154.7 87.0,152.2 87.4,149.7 87.8,148.4 88.2,151.6 88.6,156.9 89.0,160.1 89.4,161.6 89.8,162.6 90.2,163.3 90.6,163.7 91.0,163.9 91.4,164.1 91.8,164.3 92.2,164.5 92.6,164.6 93.0,164.7 93.4,164.5 93.8,164.3 94.2,164.5 94.6,164.6 95.0,164.5 95.4,164.5 95.8,164.6 96.2,164.7 96.6,164.7 97.0,164.7 97.4,164.8 97.8,164.8 98.2,164.6 98.6,164.5 99.0,164.6 99.4,164.7 99.8,164.7 100.2,164.7 100.6,164.7 101.0,164.6 101.4,164.6 101.8,164.4 102.2,164.3 102.6,164.3 103.0,164.3 103.4,164.3 103.8,164.3 104.2,164.3 104.6,164.4 105.0,164.5 105.4,164.5 105.8,164.5 106.2,164.5 106.6,164.5 107.0,164.4 107.4,164.3 107.8,164.3 108.2,164.2 108.6,164.1 109.0,164.1 109.4,164.1 109.8,164.0 110.2,163.8 110.6,163.8 111.0,163.9 111.4,164.0 111.8,164.1 112.2,164.1 112.6,163.9 113.0,163.9 113.4,164.0 113.8,164.1 114.2,164.2 114.6,164.2 115.0,164.1 115.4,164.1 115.8,164.1 116.2,164.0 116.6,163.9 117.0,163.9 117.4,163.9 117.8,163.7 118.2,163.5 118.6,163.6 119.0,163.6 119.4,163.4 119.8,163.3 120.2,163.1 120.6,162.9 121.0,162.6 121.4,162.2 121.8,161.8 122.2,161.5 122.6,160.9 123.0,160.2 123.4,159.2 123.8,157.6 124.2,155.6 124.6,153.7 125.0,152.5 125.4,153.5 125.8,157.1 126.2,159.9 126.6,161.5 127.0,162.4 127.4,162.9 127.8,163.3 128.2,163.5 128.6,163.7 129.0,163.8 129.4,163.7 129.8,163.8 130.2,163.8 130.6,163.7 131.0,163.8 131.4,163.9 131.8,163.9 132.2,163.9 132.6,163.8 133.0,163.8 133.4,163.7 133.8,163.7 134.2,163.5 134.6,163.3 135.0,163.2 135.4,163.0 135.8,162.7 136.2,162.4 136.6,162.0 137.0,161.7 137.4,161.2 137.8,160.7 138.2,160.7 138.6,161.6 139.0,162.4 139.4,162.8 139.8,163.1 140.2,163.4 140.6,163.7 141.0,163.7 141.4,163.7 141.8,163.7 142.2,163.6 142.6,163.7 143.0,163.9 143.4,164.0 143.8,163.9 144.2,163.9 144.6,163.8 145.0,163.8 145.4,163.8 145.8,163.7 146.2,163.7 146.6,163.6 147.0,163.4 147.4,163.4 147.8,163.4 148.2,163.4 148.6,163.6 149.0,163.6 149.4,163.4 149.8,163.2 150.2,163.3 150.6,163.4 151.0,163.2 151.4,163.2 151.8,163.2 152.2,163.1 152.6,163.0 153.0,163.0 153.4,162.8 153.8,162.6 154.2,162.4 154.6,162.4 155.0,162.3 155.4,162.2 155.8,161.9 156.2,161.5 156.6,160.9 157.0,160.2 157.4,159.4 157.8,158.3 158.2,156.9 158.6,154.9 159.0,152.6 159.4,150.7 159.8,150.4 160.2,153.6 160.6,157.1 161.0,159.3 161.4,160.6 161.8,161.3 162.2,161.9 162.6,162.1 163.0,162.3 163.4,162.3 163.8,162.2 164.2,162.5 164.6,162.8 165.0,162.8 165.4,162.7 165.8,162.6 166.2,162.5 166.6,162.7 167.0,162.8 167.4,162.8 167.8,162.8 168.2,162.9 168.6,162.9 169.0,162.8 169.4,162.8 169.8,162.8 170.2,162.6 170.6,162.6 171.0,162.8 171.4,162.8 171.8,162.6 172.2,162.6 172.6,162.5 173.0,162.5 173.4,162.3 173.8,162.1 174.2,161.9 174.6,161.9 175.0,162.0 175.4,161.7 175.8,161.4 176.2,161.4 176.6,161.2 177.0,160.9 177.4,160.6 177.8,160.2 178.2,159.6 178.6,159.0 179.0,158.1 179.4,156.8 179.8,154.8 180.2,152.1 180.6,148.9 181.0,145.5 181.4,142.8 181.8,143.0 182.2,147.9 182.6,153.0 183.0,156.5 183.4,158.6 183.8,160.0 184.2,160.9 184.6,161.4 185.0,161.6 185.4,161.8 185.8,161.9 186.2,162.1 186.6,162.2 187.0,162.1 187.4,162.0 187.8,162.0 188.2,162.2 188.6,162.3 189.0,162.2 189.4,162.1 189.8,162.1 190.2,162.1 190.6,162.2 191.0,162.3 191.4,162.3 191.8,162.2 192.2,162.1 192.6,162.0 193.0,161.9 193.4,161.8 193.8,161.6 194.2,161.3 194.6,161.0 195.0,161.1 195.4,161.4 195.8,161.7 196.2,161.9 196.6,162.1 197.0,162.1 197.4,162.2 197.8,162.2 198.2,162.1 198.6,162.0 199.0,161.9 199.4,161.9 199.8,161.8 200.2,161.7 200.6,161.9 201.0,161.8 201.4,161.6 201.8,161.5 202.2,161.5 202.6,161.4 203.0,161.3 203.4,161.1 203.8,160.9 204.2,160.7 204.6,160.5 205.0,160.1 205.4,159.8 205.8,159.5 206.2,159.1 206.6,158.3 207.0,157.5 207.4,156.5 207.8,155.1 208.2,153.2 208.6,150.7 209.0,147.0 209.4,141.8 209.8,135.1 210.2,127.2 210.6,120.3 211.0,118.7 211.4,126.2 211.8,136.8 212.2,145.4 212.6,151.1 213.0,154.6 213.4,156.8 213.8,158.2 214.2,159.1 214.6,159.7 215.0,160.4 215.4,160.9 215.8,161.2 216.2,161.6 216.6,161.9 217.0,161.9 217.4,162.0 217.8,162.2 218.2,162.2 218.6,162.3 219.0,162.4 219.4,162.5 219.8,162.6 220.2,162.6 220.6,162.7 221.0,162.7 221.4,162.7 221.8,162.5 222.2,162.4 222.6,162.4 223.0,162.5 223.4,162.6 223.8,162.6 224.2,162.6 224.6,162.4 225.0,162.2 225.4,162.0 225.8,161.9 226.2,161.9 226.6,161.8 227.0,161.6 227.4,161.4 227.8,161.1 228.2,160.8 228.6,160.4 229.0,160.1 229.4,160.1 229.8,160.3 230.2,160.6 230.6,161.1 231.0,161.4 231.4,161.5 231.8,161.8 232.2,161.9 232.6,161.9 233.0,161.8 233.4,161.8 233.8,161.9 234.2,161.8 234.6,161.5 235.0,161.2 235.4,161.0 235.8,160.8 236.2,160.3 236.6,159.4 237.0,158.3 237.4,157.0 237.8,155.7 238.2,154.8 238.6,154.8 239.0,156.0 239.4,157.7 239.8,159.3 240.2,160.4 240.6,161.1 241.0,161.5 241.4,161.9 241.8,162.2 242.2,162.4 242.6,162.4 243.0,162.5 243.4,162.7 243.8,162.7 244.2,162.7 244.6,162.8 245.0,162.8 245.4,162.6 245.8,162.5 246.2,162.6 246.6,162.6 247.0,162.6 247.4,162.8 247.8,162.9 248.2,162.8 248.6,162.7 249.0,162.6 249.4,162.4 249.8,162.3 250.2,162.3 250.6,162.3 251.0,162.2 251.4,162.1 251.8,161.9 252.2,161.8 252.6,161.7 253.0,161.6 253.4,161.4 253.8,161.5 254.2,161.3 254.6,161.1 255.0,161.1 255.4,161.1 255.8,160.8 256.2,160.6 256.6,160.4 257.0,160.1 257.4,159.6 257.8,159.0 258.2,158.4 258.6,157.4 259.0,155.9 259.4,153.9 259.8,151.2 260.2,147.8 260.6,143.7 261.0,139.7 261.4,137.1 261.8,137.4 262.2,140.5 262.6,145.0 263.0,149.6 263.4,153.2 263.8,155.9 264.2,157.7 264.6,158.8 265.0,159.4 265.4,159.6 265.8,159.6 266.2,159.4 266.6,159.1 267.0,158.5 267.4,157.5 267.8,156.3 268.2,154.6 268.6,152.9 269.0,151.6 269.4,151.3 269.8,152.2 270.2,154.1 270.6,156.2 271.0,158.0 271.4,159.4 271.8,160.5 272.2,161.2 272.6,161.7 273.0,161.9 273.4,162.0 273.8,162.1 274.2,162.3 274.6,162.4 275.0,162.5 275.4,162.5 275.8,162.5 276.2,162.6 276.6,162.6 277.0,162.6 277.4,162.5 277.8,162.5 278.2,162.5 278.6,162.6 279.0,162.7 279.4,162.6 279.8,162.4 280.2,162.5 280.6,162.6 281.0,162.5 281.4,162.5 281.8,162.5 282.2,162.4 282.6,162.5 283.0,162.5 283.4,162.4 283.8,162.4 284.2,162.4 284.6,162.4 285.0,162.2 285.4,162.0 285.8,161.8 286.2,161.6 286.6,161.4 287.0,161.0 287.4,160.6 287.8,160.4 288.2,160.2 288.6,160.1 289.0,160.4 289.4,160.8 289.8,161.2 290.2,161.6 290.6,161.8 291.0,161.9 291.4,162.0 291.8,162.1 292.2,162.1 292.6,162.0 293.0,162.0 293.4,162.0 293.8,161.8 294.2,161.4 294.6,160.9 295.0,160.2 295.4,159.4 295.8,158.7 296.2,158.0 296.6,157.8 297.0,158.1 297.4,158.6 297.8,159.5 298.2,160.2 298.6,160.8 299.0,161.4 299.4,161.8 299.8,162.1 300.2,162.2 300.6,162.2 301.0,162.2 301.4,162.3 301.8,162.3 302.2,162.2 302.6,162.1 303.0,162.2 303.4,162.2 303.8,162.1 304.2,162.2 304.6,162.2 305.0,162.1 305.4,162.1 305.8,162.2 306.2,162.2 306.6,162.2 307.0,162.2 307.4,162.3 307.8,162.3 308.2,162.3 308.6,162.3 309.0,162.4 309.4,162.3 309.8,162.3 310.2,162.3 310.6,162.2 311.0,162.2 311.4,162.1 311.8,162.1 312.2,162.1 312.6,162.0 313.0,161.8 313.4,161.8 313.8,161.9 314.2,161.8 314.6,161.6 315.0,161.3 315.4,161.1 315.8,160.9 316.2,160.6 316.6,160.3 317.0,160.1 317.4,159.4 317.8,158.5 318.2,157.2 318.6,155.0 319.0,151.9 319.4,147.8 319.8,143.2 320.2,138.4 320.6,134.2 321.0,131.8 321.4,131.9 321.8,134.5 322.2,139.0 322.6,144.2 323.0,148.9 323.4,152.8 323.8,155.8 324.2,157.8 324.6,158.8 325.0,159.1 325.4,159.0 325.8,158.2 326.2,156.5 326.6,154.2 327.0,151.4 327.4,148.2 327.8,145.1 328.2,142.8 328.6,141.9 329.0,142.7 329.4,145.0 329.8,148.3 330.2,151.7 330.6,154.8 331.0,157.2 331.4,158.7 331.8,159.4 332.2,159.7 332.6,159.7 333.0,159.5 333.4,159.4 333.8,159.3 334.2,159.3 334.6,159.5 335.0,160.0 335.4,160.3 335.8,160.8 336.2,161.4 336.6,161.8 337.0,162.0 337.4,162.1 337.8,162.2 338.2,162.1 338.6,162.0 339.0,161.9 339.4,161.7 339.8,161.4 340.2,161.2 340.6,161.1 341.0,161.1 341.4,161.2 341.8,161.5 342.2,162.0 342.6,162.2 343.0,162.3 343.4,162.4 343.8,162.5 344.2,162.5 344.6,162.4 345.0,162.6 345.4,162.8 345.8,162.8 346.2,162.6 346.6,162.7 347.0,162.7 347.4,162.7 347.8,162.7 348.2,162.7 348.6,162.7 349.0,162.7 349.4,162.6 349.8,162.7 350.2,162.7 350.6,162.6 351.0,162.6 351.4,162.6 351.8,162.5 352.2,162.3 352.6,162.2 353.0,162.0 353.4,161.7 353.8,161.3 354.2,160.7 354.6,160.4 355.0,160.2 355.4,160.2 355.8,160.6 356.2,161.2 356.6,161.7 357.0,162.0 357.4,162.3 357.8,162.4 358.2,162.5 358.6,162.6 359.0,162.6 359.4,162.5 359.8,162.6 360.2,162.8 360.6,162.8 361.0,162.7 361.4,162.7 361.8,162.6 362.2,162.2 362.6,161.5 363.0,160.8 363.4,160.0 363.8,159.2 364.2,158.4 364.6,158.1 365.0,158.4 365.4,159.0 365.8,159.8 366.2,160.6 366.6,161.4 367.0,161.9 367.4,162.0 367.8,162.0 368.2,161.8 368.6,161.5 369.0,161.4 369.4,161.3 369.8,161.2 370.2,161.2 370.6,161.4 371.0,161.7 371.4,162.1 371.8,162.3 372.2,162.4 372.6,162.5 373.0,162.6 373.4,162.4 373.8,162.3 374.2,162.4 374.6,162.6 375.0,162.8 375.4,162.9 375.8,162.7 376.2,162.5 376.6,162.4 377.0,162.4 377.4,162.7 377.8,162.8 378.2,162.8 378.6,162.8 379.0,162.9 379.4,162.8 379.8,162.8 380.2,162.8 380.6,162.9 381.0,162.7 381.4,162.6 381.8,162.4 382.2,162.1 382.6,161.8 383.0,161.4 383.4,160.7 383.8,160.1 384.2,159.7 384.6,159.4 385.0,159.5 385.4,160.0 385.8,160.6 386.2,161.1 386.6,161.6 387.0,162.0 387.4,162.3 387.8,162.5 388.2,162.6 388.6,162.8 389.0,162.9 389.4,162.9 389.8,162.9 390.2,162.9 390.6,162.9 391.0,163.0 391.4,163.2 391.8,163.2 392.2,163.2 392.6,163.2 393.0,163.3 393.4,163.4 393.8,163.3 394.2,163.3 394.6,163.2 395.0,163.1 395.4,163.0 395.8,163.0 396.2,163.0 396.6,163.0 397.0,162.9 397.4,163.0 397.8,163.0 398.2,163.0 398.6,162.9 399.0,162.9 399.4,162.9 399.8,162.9 400.2,162.9 400.6,163.0 401.0,163.1 401.4,163.1 401.8,163.1 402.2,163.3 402.6,163.2 403.0,162.9 403.4,162.8 403.8,162.9 404.2,163.0 404.6,162.9 405.0,162.8 405.4,162.9 405.8,162.9 406.2,162.8 406.6,162.8 407.0,162.9 407.4,163.0 407.8,163.0 408.2,163.0 408.6,162.9 409.0,162.9 409.4,163.1 409.8,163.1 410.2,162.9 410.6,162.8 411.0,162.7 411.4,162.7 411.8,162.6 412.2,162.6 412.6,162.6 413.0,162.5 413.4,162.5 413.8,162.7 414.2,162.7 414.6,162.7 415.0,162.6 415.4,162.6 415.8,162.7 416.2,162.8 416.6,162.8 417.0,162.9 417.4,162.9 417.8,163.0 418.2,163.1 418.6,163.1 419.0,163.0 419.4,163.0 419.8,163.1 420.2,163.1 420.6,163.0 421.0,163.0 421.4,163.0 421.8,163.1 422.2,162.9 422.6,162.8 423.0,163.0 423.4,163.0 423.8,163.0 424.2,163.0 424.6,162.9 425.0,162.8 425.4,162.8 425.8,162.8 426.2,162.9 426.6,163.0 427.0,162.9 427.4,162.8 427.8,163.0 428.2,163.1 428.6,163.1 429.0,163.1 429.4,163.2 429.8,163.3 430.2,163.3 430.6,163.3 431.0,163.2 431.4,163.3 431.8,163.4 432.2,163.2 432.6,163.1 433.0,163.1 433.4,163.0 433.8,162.9 434.2,162.9 434.6,162.9 435.0,162.8 435.4,162.9 435.8,162.9 436.2,162.9 436.6,163.0 437.0,163.1 437.4,163.1 437.8,163.1 438.2,163.0 438.6,162.8 439.0,162.9 439.4,163.0 439.8,162.9 440.2,162.8 440.6,162.8 441.0,162.9 441.4,163.0 441.8,163.0 442.2,163.1 442.6,163.1 443.0,163.0 443.4,162.9 443.8,162.8 444.2,162.8 444.6,162.8 445.0,162.8 445.4,162.9 445.8,162.9 446.2,162.9 446.6,162.8 447.0,162.7 447.4,162.8 447.8,162.8 448.2,162.8 448.6,162.9 449.0,163.0 449.4,163.0 449.8,162.9 450.2,162.9 450.6,162.8 451.0,162.7 451.4,162.7 451.8,162.6 452.2,162.7 452.6,162.8 453.0,162.8 453.4,162.9 453.8,162.9 454.2,162.7 454.6,162.7 455.0,162.8 455.4,162.9 455.8,162.9 456.2,162.9 456.6,162.8 457.0,162.7 457.4,162.9 457.8,162.9 458.2,162.8 458.6,162.7 459.0,162.7 459.4,162.9 459.8,162.9 460.2,162.8 460.6,162.5 461.0,162.5 461.4,162.4 461.8,162.2 462.2,162.0 462.6,161.7 463.0,161.4 463.4,161.1 463.8,160.9 464.2,160.9 464.6,160.8 465.0,160.9 465.4,161.4 465.8,161.8 466.2,162.1 466.6,162.4 467.0,162.7 467.4,162.8 467.8,162.9 468.2,162.9 468.6,163.0 469.0,163.1 469.4,163.1 469.8,163.1 470.2,163.2 470.6,163.2 471.0,163.1 471.4,163.0 471.8,162.9 472.2,162.9 472.6,163.0 473.0,163.1 473.4,163.1 473.8,162.9 474.2,162.9 474.6,162.9 475.0,162.9 475.4,162.8 475.8,162.6 476.2,162.7 476.6,162.8 477.0,162.9 477.4,162.9 477.8,162.9 478.2,163.0 478.6,163.0 479.0,162.9 479.4,162.9 479.8,163.0 480.2,163.1 480.6,163.1 481.0,163.0 481.4,162.9 481.8,162.9 482.2,162.9 482.6,162.9 483.0,162.8 483.4,162.8 483.8,162.8 484.2,162.9 484.6,163.0 485.0,163.0 485.4,163.1 485.8,163.0 486.2,163.0 486.6,162.9 487.0,163.0 487.4,163.1 487.8,163.1 488.2,163.1 488.6,163.1 489.0,163.2 489.4,163.1 489.8,163.0 490.2,163.0 490.6,163.1 491.0,163.2 491.4,163.4 491.8,163.3 492.2,163.4 492.6,163.4 493.0,163.2 493.4,163.2 493.8,163.2 494.2,163.2 494.6,163.0 495.0,162.9 495.4,162.8 495.8,162.7 496.2,162.8 496.6,162.8 497.0,162.8 497.4,162.7 497.8,162.6 498.2,162.5 498.6,162.6 499.0,162.7 499.4,162.7 499.8,162.7 500.2,162.8 500.6,162.9 501.0,162.7 501.4,162.7 501.8,162.9 502.2,163.0 502.6,163.0 503.0,163.0 503.4,162.9 503.8,162.9 504.2,163.0 504.6,162.9 505.0,162.8 505.4,162.7 505.8,162.5 506.2,162.4 506.6,162.3 507.0,162.0 507.4,161.6 507.8,161.3 508.2,161.1 508.6,161.1 509.0,161.0 509.4,161.1 509.8,161.4 510.2,161.8 510.6,162.1 511.0,162.4 511.4,162.5 511.8,162.5 512.2,162.6 512.6,162.7 513.0,162.8 513.4,162.8 513.8,162.7 514.2,162.6 514.6,162.7 515.0,162.8 515.4,162.8 515.8,162.7 516.2,162.5 516.6,162.5 517.0,162.6 517.4,162.8 517.8,162.8 518.2,162.8 518.6,162.9 519.0,162.8 519.4,162.8 519.8,162.7 520.2,162.7 520.6,162.8 521.0,162.8 521.4,162.7 521.8,162.5 522.2,162.4 522.6,162.5 523.0,162.3 523.4,161.9 523.8,161.4 524.2,160.8 524.6,160.2 525.0,159.6 525.4,159.4 525.8,159.6 526.2,159.9 526.6,160.4 527.0,161.0 527.4,161.6 527.8,162.2 528.2,162.5 528.6,162.7 529.0,162.9 529.4,163.0 529.8,162.9 530.2,162.8 530.6,162.7 531.0,162.7 531.4,162.7 531.8,162.6 532.2,162.5 532.6,162.3 533.0,162.1 533.4,161.9 533.8,161.6 534.2,161.4 534.6,161.3 535.0,161.5 535.4,161.7 535.8,161.8 536.2,162.1 536.6,162.4 537.0,162.6 537.4,162.6 537.8,162.7"/>
<polyline stroke="#40a23c" points="36.6,122.4 37.0,122.4 37.4,122.5 37.8,122.4 38.2,122.4 38.6,122.4 39.0,122.4 39.4,122.4 39.8,122.3 40.2,122.3 40.6,122.4 41.0,122.3 41.4,122.2 41.8,122.2 42.2,122.3 42.6,122.3 43.0,122.2 43.4,122.2 43.8,122.2 44.2,122.2 44.6,122.3 45.0,122.4 45.4,122.4 45.8,122.4 46.2,122.4 46.6,122.5 47.0,122.5 47.4,122.4 47.8,122.3 48.2,122.3 48.6,122.3 49.0,122.6 49.4,122.6 49.8,122.5 50.2,122.5 50.6,122.4 51.0,122.3 51.4,122.3 51.8,122.3 52.2,122.2 52.6,122.0 53.0,121.9 53.4,122.0 53.8,122.2 54.2,122.2 54.6,122.0 55.0,122.0 55.4,122.2 55.8,122.3 56.2,122.3 56.6,122.1 57.0,122.2 57.4,122.2 57.8,122.1 58.2,122.1 58.6,122.1 59.0,122.2 59.4,122.3 59.8,122.3 60.2,122.3 60.6,122.3 61.0,122.2 61.4,122.0 61.8,122.0 62.2,122.0 62.6,122.1 63.0,122.2 63.4,122.1 63.8,122.1 64.2,122.0 64.6,121.8 65.0,121.8 65.4,121.9 65.8,122.0 66.2,122.0 66.6,122.0 67.0,122.0 67.4,122.0 67.8,121.8 68.2,121.7 68.6,121.7 69.0,121.7 69.4,121.6 69.8,121.8 70.2,121.9 70.6,121.9 71.0,121.8 71.4,121.8 71.8,121.9 72.2,121.8 72.6,121.6 73.0,121.6 73.4,121.6 73.8,121.6 74.2,121.8 74.6,121.9 75.0,121.8 75.4,121.7 75.8,121.8 76.2,122.0 76.6,122.0 77.0,121.9 77.4,121.9 77.8,121.7 78.2,121.5 78.6,121.5 79.0,121.5 79.4,121.4 79.8,121.2 80.2,121.2 80.6,121.0 81.0,120.9 81.4,120.8 81.8,120.7 82.2,120.6 82.6,120.3 83.0,120.0 83.4,119.6 83.8,119.2 84.2,118.9 84.6,118.1 85.0,116.9 85.4,115.5 85.8,113.9 86.2,112.3 86.6,111.3 87.0,112.6 87.4,116.1 87.8,118.6 88.2,119.9 88.6,120.6 89.0,121.0 89.4,121.2 89.8,121.3 90.2,121.4 90.6,121.5 91.0,121.6 91.4,121.7 91.8,121.6 92.2,121.7 92.6,121.8 93.0,121.8 93.4,121.7 93.8,121.7 94.2,121.6 94.6,121.6 95.0,121.5 95.4,121.4 95.8,121.4 96.2,121.4 96.6,121.5 97.0,121.6 97.4,121.7 97.8,121.6 98.2,121.6 98.6,121.7 99.0,121.7 99.4,121.7 99.8,121.6 100.2,121.6 100.6,121.5 101.0,121.5 101.4,121.6 101.8,121.6 102.2,121.6 102.6,121.7 103.0,121.8 103.4,121.6 103.8,121.5 104.2,121.5 104.6,121.6 105.0,121.6 105.4,121.7 105.8,121.7 106.2,121.6 106.6,121.5 107.0,121.6 107.4,121.6 107.8,121.5 108.2,121.3 108.6,121.3 109.0,121.4 109.4,121.3 109.8,121.5 110.2,121.6 110.6,121.6 111.0,121.5 111.4,121.5 111.8,121.6 112.2,121.6 112.6,121.7 113.0,121.7 113.4,121.6 113.8,121.6 114.2,121.5 114.6,121.3 115.0,121.3 115.4,121.3 115.8,121.4 116.2,121.5 116.6,121.6 117.0,121.5 117.4,121.4 117.8,121.2 118.2,121.2 118.6,121.2 119.0,121.2 119.4,121.1 119.8,121.1 120.2,121.1 120.6,121.1 121.0,121.0 121.4,120.7 121.8,120.4 122.2,120.2 122.6,119.8 123.0,119.1 123.4,118.3 123.8,117.7 124.2,117.4 124.6,118.0 125.0,119.1 125.4,119.9 125.8,120.2 126.2,120.3 126.6,120.5 127.0,120.7 127.4,120.8 127.8,121.1 128.2,121.2 128.6,121.0 129.0,121.0 129.4,121.2 129.8,121.3 130.2,121.2 130.6,121.2 131.0,121.2 131.4,121.2 131.8,121.2 132.2,121.2 132.6,121.2 133.0,121.2 133.4,121.2 133.8,121.1 134.2,121.2 134.6,121.3 135.0,121.2 135.4,121.0 135.8,121.0 136.2,121.0 136.6,120.9 137.0,120.8 137.4,120.8 137.8,120.9 138.2,120.9 138.6,120.9 139.0,120.9 139.4,121.0 139.8,121.1 140.2,121.0 140.6,121.0 141.0,121.1 141.4,121.1 141.8,121.1 142.2,121.1 142.6,121.2 143.0,121.2 143.4,121.3 143.8,121.4 144.2,121.4 144.6,121.3 145.0,121.1 145.4,121.1 145.8,121.2 146.2,121.2 146.6,121.2 147.0,121.1 147.4,121.0 147.8,121.0 148.2,120.9 148.6,121.0 149.0,120.9 149.4,121.0 149.8,121.1 150.2,121.0 150.6,121.0 151.0,120.9 151.4,120.9 151.8,120.8 152.2,120.9 152.6,120.9 153.0,120.7 153.4,120.5 153.8,120.5 154.2,120.4 154.6,120.3 155.0,120.0 155.4,119.7 155.8,119.4 156.2,119.2 156.6,118.7 157.0,117.8 157.4,116.8 157.8,115.8 158.2,114.4 158.6,112.9 159.0,111.9 159.4,112.7 159.8,115.3 160.2,117.5 160.6,118.8 161.0,119.4 161.4,119.7 161.8,120.0 162.2,120.1 162.6,120.1 163.0,120.2 163.4,120.5 163.8,120.7 164.2,120.7 164.6,120.5 165.0,120.5 165.4,120.5 165.8,120.5 166.2,120.7 166.6,120.7 167.0,120.6 167.4,120.5 167.8,120.6 168.2,120.7 168.6,120.6 169.0,120.4 169.4,120.6 169.8,120.7 170.2,120.6 170.6,120.5 171.0,120.4 171.4,120.4 171.8,120.3 172.2,120.3 172.6,120.1 173.0,120.2 173.4,120.3 173.8,120.3 174.2,120.2 174.6,120.1 175.0,120.0 175.4,119.8 175.8,119.6 176.2,119.5 176.6,119.2 177.0,118.6 177.4,118.2 177.8,117.7 178.2,117.0 178.6,115.7 179.0,113.9 179.4,111.9 179.8,110.0 180.2,108.8 180.6,109.9 181.0,113.0 181.4,115.7 181.8,117.5 182.2,118.6 182.6,119.2 183.0,119.6 183.4,119.9 183.8,120.1 184.2,120.2 184.6,120.3 185.0,120.5 185.4,120.7 185.8,120.7 186.2,120.7 186.6,120.7 187.0,120.7 187.4,120.7 187.8,120.6 188.2,120.4 188.6,120.4 189.0,120.5 189.4,120.6 189.8,120.5 190.2,120.4 190.6,120.4 191.0,120.3 191.4,120.0 191.8,119.5 192.2,119.2 192.6,119.1 193.0,118.9 193.4,119.0 193.8,119.3 194.2,119.7 194.6,120.0 195.0,120.3 195.4,120.4 195.8,120.5 196.2,120.4 196.6,120.3 197.0,120.2 197.4,120.3 197.8,120.4 198.2,120.2 198.6,119.9 199.0,120.0 199.4,120.0 199.8,120.0 200.2,119.9 200.6,119.8 201.0,119.8 201.4,119.7 201.8,119.6 202.2,119.6 202.6,119.4 203.0,119.3 203.4,119.2 203.8,119.2 204.2,119.1 204.6,118.9 205.0,118.7 205.4,118.3 205.8,117.9 206.2,117.3 206.6,116.5 207.0,115.5 207.4,114.3 207.8,112.4 208.2,109.6 208.6,105.9 209.0,101.0 209.4,95.2 209.8,90.0 210.2,88.4 210.6,93.4 211.0,101.3 211.4,107.9 211.8,112.2 212.2,114.9 212.6,116.5 213.0,117.5 213.4,118.2 213.8,118.7 214.2,119.0 214.6,119.3 215.0,119.5 215.4,119.7 215.8,119.9 216.2,120.0 216.6,120.1 217.0,120.2 217.4,120.3 217.8,120.3 218.2,120.3 218.6,120.4 219.0,120.5 219.4,120.5 219.8,120.5 220.2,120.7 220.6,120.8 221.0,120.6 221.4,120.6 221.8,120.6 222.2,120.6 222.6,120.6 223.0,120.6 223.4,120.6 223.8,120.5 224.2,120.3 224.6,120.2 225.0,120.2 225.4,120.2 225.8,120.2 226.2,120.0 226.6,119.7 227.0,119.6 227.4,119.5 227.8,119.1 228.2,118.8 228.6,118.6 229.0,118.7 229.4,118.9 229.8,119.1 230.2,119.5 230.6,119.8 231.0,119.7 231.4,119.7 231.8,119.8 232.2,119.7 232.6,119.5 233.0,119.4 233.4,119.2 233.8,118.9 234.2,118.6 234.6,118.1 235.0,117.5 235.4,116.5 235.8,115.1 236.2,113.5 236.6,111.6 237.0,110.0 237.4,109.6 237.8,111.0 238.2,113.2 238.6,115.4 239.0,117.1 239.4,118.2 239.8,118.9 240.2,119.5 240.6,119.8 241.0,120.1 241.4,120.3 241.8,120.5 242.2,120.5 242.6,120.5 243.0,120.5 243.4,120.5 243.8,120.5 244.2,120.6 244.6,120.7 245.0,120.7 245.4,120.6 245.8,120.6 246.2,120.6 246.6,120.5 247.0,120.5 247.4,120.5 247.8,120.5 248.2,120.4 248.6,120.4 249.0,120.5 249.4,120.6 249.8,120.6 250.2,120.5 250.6,120.5 251.0,120.4 251.4,120.3 251.8,120.2 252.2,120.0 252.6,120.0 253.0,120.0 253.4,120.0 253.8,119.9 254.2,119.7 254.6,119.5 255.0,119.5 255.4,119.3 255.8,119.1 256.2,118.8 256.6,118.4 257.0,117.8 257.4,117.2 257.8,116.4 258.2,115.2 258.6,113.6 259.0,111.7 259.4,109.2 259.8,106.3 260.2,104.2 260.6,103.9 261.0,105.7 261.4,108.7 261.8,111.9 262.2,114.4 262.6,116.2 263.0,117.4 263.4,118.2 263.8,118.8 264.2,119.1 264.6,119.2 265.0,119.0 265.4,119.0 265.8,118.8 266.2,118.4 266.6,117.8 267.0,117.2 267.4,116.4 267.8,115.7 268.2,115.2 268.6,115.3 269.0,115.9 269.4,116.9 269.8,117.9 270.2,118.8 270.6,119.5 271.0,120.0 271.4,120.2 271.8,120.3 272.2,120.2 272.6,120.4 273.0,120.5 273.4,120.6 273.8,120.7 274.2,120.6 274.6,120.6 275.0,120.5 275.4,120.5 275.8,120.6 276.2,120.7 276.6,120.7 277.0,120.6 277.4,120.6 277.8,120.7 278.2,120.7 278.6,120.8 279.0,120.8 279.4,120.7 279.8,120.6 280.2,120.5 280.6,120.3 281.0,120.3 281.4,120.3 281.8,120.3 282.2,120.5 282.6,120.5 283.0,120.3 283.4,120.3 283.8,120.4 284.2,120.6 284.6,120.6 285.0,120.4 285.4,120.2 285.8,120.0 286.2,119.9 286.6,119.8 287.0,119.5 287.4,119.3 287.8,119.2 288.2,119.1 288.6,119.3 289.0,119.4 289.4,119.7 289.8,120.0 290.2,120.3 290.6,120.4 291.0,120.3 291.4,120.2 291.8,120.2 292.2,120.0 292.6,119.8 293.0,119.5 293.4,119.1 293.8,118.6 294.2,118.0 294.6,117.2 295.0,116.3 295.4,115.8 295.8,115.7 296.2,116.3 296.6,117.1 297.0,117.8 297.4,118.6 297.8,119.3 298.2,119.8 298.6,120.2 299.0,120.3 299.4,120.3 299.8,120.5 300.2,120.5 300.6,120.4 301.0,120.4 301.4,120.5 301.8,120.5 302.2,120.4 302.6,120.3 303.0,120.3 303.4,120.3 303.8,120.4 304.2,120.4 304.6,120.4 305.0,120.3 305.4,120.3 305.8,120.3 306.2,120.2 306.6,120.1 307.0,120.0 307.4,120.2 307.8,120.3 308.2,120.3 308.6,120.2 309.0,120.2 309.4,120.2 309.8,120.2 310.2,120.1 310.6,120.1 311.0,120.1 311.4,120.0 311.8,119.9 312.2,119.9 312.6,119.9 313.0,119.8 313.4,119.6 313.8,119.4 314.2,119.2 314.6,119.1 315.0,119.0 315.4,119.0 315.8,118.8 316.2,118.3 316.6,117.7 317.0,116.8 317.4,115.7 317.8,114.1 318.2,111.5 318.6,108.1 319.0,103.9 319.4,99.5 319.8,95.8 320.2,93.6 320.6,93.4 321.0,95.7 321.4,99.7 321.8,104.2 322.2,108.3 322.6,111.8 323.0,114.4 323.4,116.2 323.8,117.2 324.2,117.3 324.6,116.8 325.0,115.6 325.4,113.9 325.8,111.7 326.2,109.0 326.6,106.2 327.0,104.0 327.4,102.6 327.8,102.9 328.2,104.9 328.6,107.6 329.0,110.6 329.4,113.2 329.8,115.2 330.2,116.8 330.6,117.8 331.0,118.3 331.4,118.5 331.8,118.6 332.2,118.6 332.6,118.5 333.0,118.7 333.4,119.0 333.8,119.3 334.2,119.6 334.6,119.8 335.0,120.0 335.4,120.2 335.8,120.5 336.2,120.5 336.6,120.5 337.0,120.6 337.4,120.7 337.8,120.6 338.2,120.5 338.6,120.5 339.0,120.7 339.4,120.8 339.8,120.8 340.2,120.7 340.6,120.7 341.0,120.8 341.4,120.7 341.8,120.6 342.2,120.6 342.6,120.8 343.0,120.9 343.4,120.8 343.8,120.8 344.2,120.8 344.6,120.7 345.0,120.5 345.4,120.5 345.8,120.6 346.2,120.5 346.6,120.4 347.0,120.4 347.4,120.6 347.8,120.7 348.2,120.7 348.6,120.6 349.0,120.5 349.4,120.6 349.8,120.7 350.2,120.8 350.6,120.7 351.0,120.7 351.4,120.7 351.8,120.7 352.2,120.5 352.6,120.3 353.0,120.1 353.4,119.7 353.8,119.1 354.2,118.6 354.6,118.4 355.0,118.3 355.4,118.5 355.8,119.0 356.2,119.5 356.6,119.8 357.0,119.9 357.4,120.0 357.8,120.1 358.2,120.2 358.6,120.3 359.0,120.3 359.4,120.3 359.8,120.3 360.2,120.1 360.6,120.0 361.0,119.7 361.4,119.1 361.8,118.2 362.2,117.3 362.6,116.1 363.0,114.9 363.4,114.2 363.8,114.3 364.2,115.0 364.6,116.0 365.0,117.3 365.4,118.4 365.8,119.2 366.2,119.7 366.6,119.9 367.0,119.8 367.4,119.5 367.8,119.0 368.2,118.6 368.6,118.5 369.0,118.5 369.4,118.7 369.8,119.2 370.2,119.7 370.6,120.1 371.0,120.3 371.4,120.3 371.8,120.4 372.2,120.4 372.6,120.4 373.0,120.4 373.4,120.5 373.8,120.5 374.2,120.6 374.6,120.6 375.0,120.6 375.4,120.5 375.8,120.5 376.2,120.5 376.6,120.5 377.0,120.5 377.4,120.5 377.8,120.6 378.2,120.7 378.6,120.8 379.0,120.9 379.4,120.9 379.8,120.8 380.2,120.6 380.6,120.4 381.0,120.2 381.4,119.8 381.8,119.4 382.2,118.8 382.6,118.2 383.0,117.5 383.4,117.0 383.8,117.1 384.2,117.5 384.6,118.1 385.0,118.8 385.4,119.5 385.8,120.1 386.2,120.4 386.6,120.6 387.0,120.7 387.4,120.7 387.8,120.8 388.2,120.9 388.6,121.0 389.0,120.8 389.4,120.8 389.8,120.7 390.2,120.7 390.6,120.8 391.0,121.0 391.4,121.0 391.8,120.9 392.2,120.9 392.6,121.0 393.0,121.0 393.4,120.9 393.8,120.8 394.2,120.8 394.6,121.0 395.0,121.0 395.4,121.0 395.8,121.1 396.2,121.0 396.6,120.9 397.0,120.9 397.4,121.1 397.8,121.1 398.2,121.1 398.6,121.2 399.0,121.1 399.4,121.1 399.8,121.1 400.2,121.1 400.6,121.0 401.0,120.9 401.4,120.9 401.8,120.9 402.2,121.0 402.6,121.1 403.0,121.1 403.4,120.9 403.8,120.9 404.2,120.9 404.6,120.9 405.0,120.9 405.4,120.9 405.8,120.9 406.2,121.0 406.6,121.0 407.0,121.1 407.4,121.2 407.8,121.2 408.2,121.2 408.6,121.2 409.0,121.1 409.4,121.1 409.8,121.2 410.2,121.3 410.6,121.4 411.0,121.4 411.4,121.3 411.8,121.3 412.2,121.4 412.6,121.3 413.0,121.2 413.4,121.1 413.8,121.1 414.2,121.0 414.6,121.0 415.0,121.1 415.4,121.0 415.8,121.0 416.2,121.2 416.6,121.2 417.0,121.1 417.4,121.2 417.8,121.2 418.2,121.1 418.6,121.1 419.0,121.2 419.4,121.2 419.8,121.1 420.2,121.1 420.6,121.2 421.0,121.2 421.4,121.1 421.8,121.0 422.2,121.0 422.6,121.0 423.0,120.9 423.4,120.9 423.8,121.0 424.2,121.0 424.6,120.9 425.0,120.8 425.4,120.8 425.8,120.7 426.2,120.6 426.6,120.6 427.0,120.7 427.4,120.9 427.8,120.9 428.2,120.9 428.6,121.0 429.0,121.0 429.4,121.0 429.8,121.1 430.2,121.1 430.6,121.1 431.0,121.0 431.4,121.0 431.8,120.9 432.2,120.9 432.6,120.9 433.0,120.8 433.4,120.8 433.8,120.9 434.2,121.0 434.6,121.0 435.0,120.9 435.4,120.8 435.8,120.8 436.2,120.9 436.6,120.9 437.0,120.8 437.4,120.7 437.8,120.7 438.2,120.8 438.6,121.0 439.0,121.0 439.4,120.8 439.8,120.8 440.2,120.9 440.6,120.8 441.0,120.7 441.4,120.7 441.8,120.8 442.2,120.9 442.6,121.0 443.0,120.8 443.4,120.8 443.8,121.0 444.2,121.0 444.6,120.9 445.0,120.8 445.4,120.7 445.8,120.7 446.2,120.7 446.6,120.8 447.0,120.9 447.4,121.0 447.8,121.0 448.2,121.0 448.6,121.0 449.0,120.9 449.4,121.0 449.8,121.0 450.2,121.0 450.6,120.9 451.0,120.9 451.4,120.9 451.8,121.0 452.2,120.9 452.6,120.9 453.0,120.8 453.4,120.9 453.8,120.9 454.2,120.9 454.6,120.9 455.0,120.9 455.4,120.9 455.8,120.8 456.2,120.9 456.6,120.9 457.0,120.9 457.4,120.9 457.8,120.9 458.2,120.8 458.6,120.7 459.0,120.6 459.4,120.6 459.8,120.7 460.2,120.7 460.6,120.5 461.0,120.3 461.4,120.2 461.8,119.9 462.2,119.6 462.6,119.2 463.0,118.8 463.4,118.5 463.8,118.5 464.2,118.7 464.6,119.3 465.0,119.7 465.4,120.0 465.8,120.3 466.2,120.6 466.6,120.8 467.0,120.9 467.4,121.1 467.8,121.1 468.2,121.1 468.6,121.1 469.0,121.1 469.4,121.0 469.8,120.9 470.2,121.0 470.6,121.2 471.0,121.2 471.4,121.1 471.8,121.1 472.2,121.0 472.6,120.9 473.0,121.0 473.4,121.0 473.8,121.0 474.2,121.0 474.6,121.0 475.0,121.0 475.4,120.9 475.8,120.9 476.2,121.1 476.6,121.0 477.0,120.8 477.4,120.9 477.8,121.0 478.2,121.0 478.6,120.9 479.0,121.0 479.4,121.2 479.8,121.3 480.2,121.3 480.6,121.2 481.0,121.2 481.4,121.3 481.8,121.2 482.2,121.1 482.6,121.2 483.0,121.2 483.4,121.2 483.8,121.2 484.2,121.2 484.6,121.2 485.0,121.0 485.4,120.9 485.8,121.0 486.2,121.0 486.6,120.9 487.0,120.9 487.4,120.8 487.8,120.8 488.2,120.8 488.6,120.8 489.0,120.8 489.4,120.8 489.8,120.8 490.2,120.8 490.6,120.9 491.0,121.0 491.4,121.1 491.8,121.1 492.2,121.1 492.6,121.1 493.0,121.0 493.4,121.0 493.8,121.1 494.2,121.1 494.6,121.1 495.0,121.1 495.4,120.9 495.8,120.8 496.2,120.9 496.6,121.0 497.0,121.0 497.4,120.9 497.8,120.9 498.2,120.9 498.6,120.9 499.0,121.0 499.4,121.0 499.8,120.9 500.2,120.7 500.6,120.7 501.0,120.8 501.4,120.7 501.8,120.8 502.2,121.0 502.6,121.0 503.0,120.9 503.4,120.9 503.8,120.8 504.2,120.8 504.6,120.7 505.0,120.6 505.4,120.6 505.8,120.4 506.2,120.2 506.6,120.0 507.0,120.0 507.4,119.9 507.8,119.9 508.2,120.0 508.6,120.2 509.0,120.4 509.4,120.7 509.8,120.8 510.2,120.9 510.6,121.0 511.0,121.1 511.4,121.2 511.8,121.3 512.2,121.3 512.6,121.1 513.0,121.0 513.4,120.9 513.8,120.9 514.2,120.8 514.6,120.7 515.0,120.7 515.4,120.7 515.8,120.7 516.2,120.8 516.6,120.9 517.0,120.9 517.4,121.0 517.8,120.9 518.2,120.8 518.6,120.8 519.0,120.8 519.4,120.8 519.8,120.7 520.2,120.7 520.6,120.9 521.0,120.8 521.4,120.7 521.8,120.5 522.2,120.3 522.6,120.2 523.0,120.0 523.4,119.7 523.8,119.4 524.2,119.3 524.6,119.4 525.0,119.5 525.4,119.6 525.8,119.9 526.2,120.2 526.6,120.4 527.0,120.6 527.4,120.8 527.8,120.8 528.2,120.7 528.6,120.9 529.0,120.9 529.4,120.9 529.8,120.7 530.2,120.5 530.6,120.4 531.0,120.2 531.4,120.0 531.8,119.8 532.2,119.7 532.6,119.9 533.0,120.1 533.4,120.2 533.8,120.4 534.2,120.6 534.6,120.7 535.0,120.8 535.4,120.8 535.8,120.8 536.2,120.9 536.6,120.9 537.0,121.0 537.4,121.1 537.8,121.0"/>
<polyline stroke="#8dbfea" points="36.6,92.6 37.0,92.6 37.4,92.6 37.8,92.6 38.2,92.6 38.6,92.5 39.0,92.5 39.4,92.6 39.8,92.6 40.2,92.6 40.6,92.7 41.0,92.7 41.4,92.6 41.8,92.6 42.2,92.6 42.6,92.7 43.0,92.8 43.4,92.8 43.8,92.8 44.2,92.8 44.6,92.8 45.0,92.8 45.4,92.8 45.8,92.7 46.2,92.6 46.6,92.7 47.0,92.8 47.4,92.8 47.8,92.8 48.2,92.7 48.6,92.7 49.0,92.7 49.4,92.6 49.8,92.5 50.2,92.6 50.6,92.6 51.0,92.6 51.4,92.5 51.8,92.5 52.2,92.6 52.6,92.6 53.0,92.6 53.4,92.5 53.8,92.5 54.2,92.5 54.6,92.6 55.0,92.7 55.4,92.6 55.8,92.5 56.2,92.5 56.6,92.5 57.0,92.5 57.4,92.5 57.8,92.6 58.2,92.6 58.6,92.4 59.0,92.4 59.4,92.6 59.8,92.5 60.2,92.5 60.6,92.6 61.0,92.7 61.4,92.7 61.8,92.6 62.2,92.5 62.6,92.4 63.0,92.5 63.4,92.4 63.8,92.4 64.2,92.4 64.6,92.5 65.0,92.5 65.4,92.4 65.8,92.4 66.2,92.5 66.6,92.5 67.0,92.3 67.4,92.2 67.8,92.2 68.2,92.4 68.6,92.4 69.0,92.3 69.4,92.2 69.8,92.1 70.2,92.1 70.6,92.2 71.0,92.3 71.4,92.3 71.8,92.2 72.2,92.3 72.6,92.4 73.0,92.5 73.4,92.6 73.8,92.5 74.2,92.5 74.6,92.5 75.0,92.4 75.4,92.2 75.8,92.2 76.2,92.2 76.6,92.1 77.0,92.0 77.4,92.0 77.8,91.9 78.2,91.9 78.6,91.7 79.0,91.5 79.4,91.3 79.8,91.4 80.2,91.4 80.6,91.5 81.0,91.5 81.4,91.2 81.8,90.9 82.2,90.6 82.6,90.3 83.0,89.9 83.4,89.6 83.8,89.2 84.2,88.6 84.6,87.7 85.0,86.5 85.4,84.9 85.8,83.0 86.2,80.7 86.6,78.3 87.0,77.1 87.4,79.9 87.8,85.0 88.2,88.1 88.6,89.8 89.0,90.6 89.4,91.0 89.8,91.3 90.2,91.6 90.6,91.8 91.0,91.8 91.4,91.8 91.8,92.0 92.2,92.1 92.6,92.1 93.0,91.9 93.4,92.0 93.8,92.3 94.2,92.4 94.6,92.4 95.0,92.4 95.4,92.3 95.8,92.4 96.2,92.6 96.6,92.7 97.0,92.6 97.4,92.4 97.8,92.3 98.2,92.4 98.6,92.5 99.0,92.5 99.4,92.4 99.8,92.3 100.2,92.3 100.6,92.3 101.0,92.4 101.4,92.4 101.8,92.4 102.2,92.5 102.6,92.5 103.0,92.6 103.4,92.5 103.8,92.4 104.2,92.3 104.6,92.4 105.0,92.5 105.4,92.4 105.8,92.3 106.2,92.3 106.6,92.4 107.0,92.6 107.4,92.6 107.8,92.5 108.2,92.6 108.6,92.7 109.0,92.7 109.4,92.5 109.8,92.5 110.2,92.6 110.6,92.6 111.0,92.7 111.4,92.7 111.8,92.5 112.2,92.5 112.6,92.5 113.0,92.4 113.4,92.4 113.8,92.4 114.2,92.5 114.6,92.4 115.0,92.1 115.4,92.1 115.8,92.2 116.2,92.2 116.6,92.0 117.0,91.9 117.4,92.0 117.8,91.9 118.2,91.9 118.6,91.8 119.0,91.7 119.4,91.5 119.8,91.5 120.2,91.5 120.6,91.4 121.0,91.1 121.4,90.8 121.8,90.4 122.2,89.9 122.6,89.2 123.0,88.2 123.4,86.9 123.8,85.3 124.2,83.8 124.6,83.4 125.0,85.3 125.4,88.0 125.8,89.8 126.2,90.7 126.6,91.3 127.0,91.6 127.4,91.9 127.8,92.1 128.2,92.1 128.6,92.0 129.0,92.0 129.4,92.0 129.8,92.0 130.2,92.0 130.6,92.0 131.0,92.1 131.4,92.0 131.8,91.9 132.2,91.9 132.6,92.0 133.0,92.0 133.4,91.9 133.8,91.7 134.2,91.6 134.6,91.4 135.0,91.2 135.4,90.9 135.8,90.7 136.2,90.6 136.6,90.4 137.0,90.3 137.4,90.8 137.8,91.3 138.2,91.7 138.6,92.1 139.0,92.3 139.4,92.3 139.8,92.4 140.2,92.4 140.6,92.5 141.0,92.5 141.4,92.5 141.8,92.6 142.2,92.7 142.6,92.6 143.0,92.7 143.4,92.7 143.8,92.7 144.2,92.6 144.6,92.6 145.0,92.5 145.4,92.4 145.8,92.3 146.2,92.3 146.6,92.3 147.0,92.2 147.4,92.3 147.8,92.3 148.2,92.1 148.6,92.1 149.0,92.1 149.4,92.1 149.8,92.1 150.2,92.1 150.6,92.0 151.0,91.9 151.4,91.9 151.8,91.9 152.2,91.7 152.6,91.5 153.0,91.7 153.4,91.7 153.8,91.7 154.2,91.5 154.6,91.2 155.0,91.0 155.4,90.8 155.8,90.7 156.2,90.4 156.6,90.1 157.0,89.6 157.4,88.7 157.8,87.5 158.2,86.0 158.6,84.3 159.0,82.8 159.4,82.4 159.8,84.6 160.2,87.3 160.6,89.2 161.0,90.3 161.4,91.0 161.8,91.4 162.2,91.8 162.6,92.1 163.0,92.4 163.4,92.4 163.8,92.4 164.2,92.3 164.6,92.3 165.0,92.4 165.4,92.4 165.8,92.4 166.2,92.5 166.6,92.5 167.0,92.4 167.4,92.4 167.8,92.5 168.2,92.4 168.6,92.3 169.0,92.1 169.4,91.9 169.8,91.8 170.2,91.8 170.6,91.8 171.0,91.7 171.4,91.6 171.8,91.5 172.2,91.5 172.6,91.5 173.0,91.5 173.4,91.4 173.8,91.2 174.2,91.1 174.6,91.0 175.0,90.9 175.4,90.8 175.8,90.5 176.2,90.2 176.6,90.0 177.0,89.6 177.4,88.9 177.8,88.2 178.2,87.0 178.6,85.3 179.0,83.2 179.4,80.3 179.8,76.6 180.2,73.0 180.6,71.5 181.0,74.5 181.4,80.3 181.8,84.8 182.2,87.4 182.6,88.9 183.0,90.0 183.4,90.6 183.8,91.0 184.2,91.3 184.6,91.4 185.0,91.5 185.4,91.6 185.8,91.7 186.2,91.8 186.6,92.0 187.0,91.9 187.4,91.9 187.8,91.8 188.2,91.8 188.6,91.9 189.0,91.9 189.4,92.0 189.8,91.9 190.2,91.6 190.6,91.5 191.0,91.4 191.4,91.2 191.8,91.0 192.2,90.8 192.6,90.4 193.0,90.2 193.4,90.3 193.8,90.6 194.2,90.9 194.6,91.2 195.0,91.4 195.4,91.5 195.8,91.4 196.2,91.4 196.6,91.4 197.0,91.5 197.4,91.6 197.8,91.7 198.2,91.7 198.6,91.6 199.0,91.4 199.4,91.4 199.8,91.4 200.2,91.3 200.6,91.3 201.0,91.1 201.4,90.9 201.8,90.8 202.2,90.8 202.6,90.8 203.0,90.6 203.4,90.5 203.8,90.2 204.2,90.0 204.6,89.6 205.0,89.2 205.4,88.8 205.8,88.3 206.2,87.5 206.6,86.6 207.0,85.5 207.4,83.8 207.8,81.4 208.2,78.0 208.6,73.1 209.0,66.6 209.4,59.1 209.8,52.4 210.2,50.6 210.6,57.2 211.0,67.3 211.4,75.6 211.8,81.1 212.2,84.5 212.6,86.6 213.0,88.1 213.4,89.0 213.8,89.6 214.2,90.1 214.6,90.6 215.0,90.9 215.4,91.1 215.8,91.3 216.2,91.4 216.6,91.5 217.0,91.6 217.4,91.7 217.8,91.8 218.2,92.0 218.6,92.1 219.0,92.0 219.4,91.9 219.8,91.9 220.2,91.9 220.6,92.0 221.0,92.0 221.4,92.0 221.8,91.9 222.2,91.9 222.6,92.0 223.0,92.1 223.4,92.0 223.8,92.0 224.2,92.1 224.6,91.9 225.0,91.9 225.4,92.0 225.8,92.0 226.2,91.8 226.6,91.6 227.0,91.3 227.4,91.0 227.8,90.7 228.2,90.4 228.6,90.2 229.0,90.3 229.4,90.6 229.8,91.0 230.2,91.3 230.6,91.5 231.0,91.6 231.4,91.8 231.8,91.7 232.2,91.4 232.6,91.2 233.0,91.1 233.4,91.0 233.8,90.8 234.2,90.4 234.6,89.9 235.0,89.3 235.4,88.4 235.8,87.2 236.2,85.7 236.6,84.1 237.0,82.8 237.4,82.5 237.8,83.8 238.2,85.7 238.6,87.6 239.0,89.0 239.4,90.2 239.8,91.0 240.2,91.3 240.6,91.3 241.0,91.4 241.4,91.6 241.8,91.7 242.2,91.9 242.6,91.8 243.0,91.7 243.4,91.8 243.8,91.7 244.2,91.7 244.6,91.8 245.0,91.8 245.4,91.9 245.8,91.9 246.2,91.9 246.6,91.9 247.0,91.7 247.4,91.7 247.8,91.7 248.2,91.8 248.6,91.7 249.0,91.5 249.4,91.5 249.8,91.5 250.2,91.4 250.6,91.5 251.0,91.6 251.4,91.5 251.8,91.4 252.2,91.4 252.6,91.3 253.0,91.2 253.4,91.2 253.8,91.1 254.2,90.7 254.6,90.3 255.0,90.1 255.4,89.9 255.8,89.6 256.2,89.0 256.6,88.4 257.0,87.6 257.4,86.5 257.8,85.1 258.2,83.3 258.6,80.8 259.0,77.4 259.4,73.2 259.8,68.9 260.2,65.6 260.6,65.0 261.0,67.9 261.4,72.7 261.8,77.6 262.2,81.7 262.6,84.8 263.0,86.7 263.4,88.0 263.8,88.7 264.2,89.0 264.6,89.1 265.0,89.0 265.4,88.7 265.8,88.1 266.2,87.1 266.6,85.8 267.0,84.1 267.4,82.4 267.8,81.3 268.2,81.4 268.6,82.6 269.0,84.6 269.4,86.5 269.8,88.1 270.2,89.3 270.6,90.1 271.0,90.8 271.4,91.3 271.8,91.4 272.2,91.5 272.6,91.7 273.0,91.8 273.4,92.0 273.8,92.0 274.2,92.0 274.6,92.1 275.0,92.2 275.4,92.2 275.8,92.3 276.2,92.4 276.6,92.4 277.0,92.4 277.4,92.4 277.8,92.4 278.2,92.5 278.6,92.6 279.0,92.6 279.4,92.5 279.8,92.6 280.2,92.6 280.6,92.5 281.0,92.4 281.4,92.2 281.8,92.2 282.2,92.3 282.6,92.2 283.0,92.0 283.4,91.8 283.8,91.7 284.2,91.6 284.6,91.3 285.0,91.1 285.4,91.1 285.8,91.0 286.2,90.6 286.6,90.1 287.0,89.7 287.4,89.4 287.8,89.1 288.2,88.9 288.6,89.1 289.0,89.5 289.4,90.0 289.8,90.5 290.2,90.8 290.6,91.1 291.0,91.4 291.4,91.6 291.8,91.6 292.2,91.5 292.6,91.2 293.0,90.9 293.4,90.4 293.8,89.7 294.2,88.7 294.6,87.6 295.0,86.8 295.4,86.3 295.8,86.2 296.2,86.7 296.6,87.7 297.0,88.7 297.4,89.6 297.8,90.4 298.2,91.0 298.6,91.5 299.0,91.9 299.4,92.1 299.8,92.2 300.2,92.1 300.6,92.1 301.0,92.2 301.4,92.2 301.8,92.2 302.2,92.1 302.6,92.0 303.0,92.1 303.4,92.1 303.8,92.0 304.2,91.8 304.6,91.8 305.0,91.9 305.4,92.0 305.8,92.0 306.2,92.0 306.6,92.1 307.0,92.1 307.4,92.1 307.8,92.0 308.2,92.0 308.6,92.0 309.0,91.8 309.4,91.7 309.8,91.7 310.2,91.5 310.6,91.4 311.0,91.3 311.4,91.2 311.8,91.2 312.2,91.2 312.6,91.1 313.0,91.0 313.4,90.9 313.8,91.0 314.2,90.9 314.6,90.7 315.0,90.6 315.4,90.4 315.8,90.2 316.2,89.9 316.6,89.2 317.0,88.4 317.4,87.0 317.8,84.7 318.2,81.6 318.6,77.6 319.0,72.8 319.4,67.9 319.8,63.6 320.2,61.0 320.6,61.0 321.0,63.6 321.4,68.0 321.8,73.1 322.2,77.9 322.6,82.0 323.0,85.1 323.4,86.9 323.8,87.7 324.2,87.7 324.6,87.0 325.0,85.7 325.4,83.5 325.8,80.5 326.2,77.0 326.6,73.6 327.0,70.7 327.4,69.2 327.8,69.7 328.2,72.0 328.6,75.4 329.0,79.3 329.4,82.9 329.8,85.8 330.2,88.0 330.6,89.6 331.0,90.6 331.4,91.1 331.8,91.3 332.2,91.6 332.6,91.5 333.0,91.5 333.4,91.7 333.8,91.6 334.2,91.4 334.6,91.1 335.0,90.8 335.4,90.5 335.8,90.4 336.2,90.4 336.6,90.4 337.0,90.5 337.4,90.8 337.8,91.1 338.2,91.4 338.6,91.8 339.0,92.1 339.4,92.3 339.8,92.4 340.2,92.5 340.6,92.6 341.0,92.6 341.4,92.7 341.8,92.6 342.2,92.6 342.6,92.6 343.0,92.6 343.4,92.6 343.8,92.7 344.2,92.8 344.6,92.7 345.0,92.5 345.4,92.4 345.8,92.4 346.2,92.5 346.6,92.5 347.0,92.3 347.4,92.3 347.8,92.2 348.2,92.1 348.6,92.1 349.0,92.2 349.4,92.1 349.8,91.9 350.2,91.9 350.6,92.0 351.0,92.0 351.4,91.9 351.8,91.8 352.2,91.6 352.6,91.4 353.0,90.9 353.4,90.1 353.8,89.5 354.2,89.0 354.6,88.7 355.0,88.8 355.4,89.2 355.8,89.8 356.2,90.5 356.6,91.1 357.0,91.4 357.4,91.6 357.8,91.8 358.2,92.1 358.6,92.2 359.0,92.1 359.4,92.0 359.8,92.0 360.2,92.0 360.6,92.0 361.0,91.6 361.4,90.9 361.8,90.2 362.2,89.3 362.6,88.2 363.0,87.1 363.4,86.4 363.8,86.5 364.2,87.1 364.6,87.9 365.0,89.2 365.4,90.3 365.8,90.9 366.2,91.2 366.6,91.3 367.0,91.3 367.4,91.0 367.8,90.5 368.2,90.0 368.6,90.0 369.0,90.1 369.4,90.2 369.8,90.5 370.2,91.2 370.6,91.7 371.0,91.9 371.4,92.2 371.8,92.3 372.2,92.4 372.6,92.5 373.0,92.5 373.4,92.5 373.8,92.6 374.2,92.6 374.6,92.5 375.0,92.5 375.4,92.5 375.8,92.5 376.2,92.4 376.6,92.5 377.0,92.5 377.4,92.4 377.8,92.3 378.2,92.3 378.6,92.3 379.0,92.3 379.4,92.2 379.8,92.0 380.2,91.9 380.6,91.8 381.0,91.5 381.4,91.1 381.8,90.6 382.2,89.8 382.6,88.8 383.0,87.9 383.4,87.3 383.8,87.4 384.2,88.1 384.6,89.0 385.0,89.9 385.4,90.9 385.8,91.6 386.2,91.9 386.6,91.9 387.0,92.0 387.4,92.2 387.8,92.4 388.2,92.5 388.6,92.6 389.0,92.6 389.4,92.6 389.8,92.6 390.2,92.6 390.6,92.7 391.0,92.7 391.4,92.7 391.8,92.6 392.2,92.6 392.6,92.6 393.0,92.6 393.4,92.6 393.8,92.6 394.2,92.7 394.6,92.8 395.0,92.8 395.4,92.7 395.8,92.7 396.2,92.7 396.6,92.8 397.0,92.8 397.4,92.8 397.8,92.8 398.2,92.7 398.6,92.7 399.0,92.8 399.4,92.6 399.8,92.7 400.2,92.7 400.6,92.5 401.0,92.4 401.4,92.6 401.8,92.8 402.2,92.8 402.6,92.7 403.0,92.7 403.4,92.7 403.8,92.7 404.2,92.6 404.6,92.4 405.0,92.4 405.4,92.5 405.8,92.4 406.2,92.5 406.6,92.6 407.0,92.7 407.4,92.8 407.8,92.8 408.2,92.7 408.6,92.5 409.0,92.3 409.4,92.3 409.8,92.4 410.2,92.4 410.6,92.4 411.0,92.3 411.4,92.3 411.8,92.4 412.2,92.5 412.6,92.5 413.0,92.5 413.4,92.4 413.8,92.4 414.2,92.2 414.6,92.2 415.0,92.3 415.4,92.4 415.8,92.5 416.2,92.4 416.6,92.3 417.0,92.2 417.4,92.3 417.8,92.4 418.2,92.2 418.6,92.1 419.0,92.1 419.4,92.0 419.8,91.8 420.2,91.6 420.6,91.4 421.0,91.2 421.4,91.1 421.8,91.2 422.2,91.3 422.6,91.6 423.0,91.9 423.4,92.0 423.8,92.2 424.2,92.5 424.6,92.7 425.0,92.8 425.4,92.8 425.8,92.8 426.2,92.8 426.6,92.9 427.0,92.9 427.4,92.9 427.8,92.8 428.2,92.7 428.6,92.7 429.0,92.7 429.4,92.7 429.8,92.6 430.2,92.6 430.6,92.7 431.0,92.6 431.4,92.6 431.8,92.8 432.2,92.9 432.6,92.9 433.0,92.8 433.4,92.7 433.8,92.7 434.2,92.7 434.6,92.7 435.0,92.7 435.4,92.7 435.8,92.6 436.2,92.4 436.6,92.4 437.0,92.4 437.4,92.6 437.8,92.6 438.2,92.5 438.6,92.4 439.0,92.4 439.4,92.4 439.8,92.5 440.2,92.6 440.6,92.6 441.0,92.4 441.4,92.4 441.8,92.6 442.2,92.5 442.6,92.4 443.0,92.6 443.4,92.7 443.8,92.6 444.2,92.6 444.6,92.6 445.0,92.6 445.4,92.6 445.8,92.7 446.2,92.8 446.6,92.8 447.0,92.6 447.4,92.6 447.8,92.6 448.2,92.6 448.6,92.7 449.0,92.8 449.4,92.7 449.8,92.5 450.2,92.3 450.6,92.3 451.0,92.3 451.4,92.3 451.8,92.2 452.2,92.2 452.6,92.2 453.0,92.2 453.4,92.1 453.8,92.2 454.2,92.4 454.6,92.5 455.0,92.6 455.4,92.7 455.8,92.6 456.2,92.5 456.6,92.5 457.0,92.5 457.4,92.5 457.8,92.5 458.2,92.4 458.6,92.3 459.0,92.2 459.4,92.4 459.8,92.4 460.2,92.1 460.6,91.8 461.0,91.6 461.4,91.4 461.8,91.1 462.2,90.7 462.6,90.2 463.0,89.8 463.4,89.4 463.8,89.4 464.2,89.9 464.6,90.5 465.0,91.2 465.4,91.7 465.8,92.0 466.2,92.2 466.6,92.3 467.0,92.4 467.4,92.4 467.8,92.4 468.2,92.4 468.6,92.4 469.0,92.4 469.4,92.5 469.8,92.6 470.2,92.5 470.6,92.4 471.0,92.3 471.4,92.4 471.8,92.6 472.2,92.7 472.6,92.7 473.0,92.7 473.4,92.7 473.8,92.6 474.2,92.6 474.6,92.7 475.0,92.6 475.4,92.4 475.8,92.5 476.2,92.7 476.6,92.6 477.0,92.5 477.4,92.4 477.8,92.4 478.2,92.3 478.6,92.4 479.0,92.4 479.4,92.3 479.8,92.4 480.2,92.4 480.6,92.3 481.0,92.4 481.4,92.5 481.8,92.6 482.2,92.5 482.6,92.4 483.0,92.4 483.4,92.6 483.8,92.8 484.2,92.8 484.6,92.7 485.0,92.7 485.4,92.6 485.8,92.7 486.2,92.8 486.6,92.7 487.0,92.5 487.4,92.5 487.8,92.6 488.2,92.7 488.6,92.7 489.0,92.4 489.4,92.3 489.8,92.4 490.2,92.3 490.6,92.4 491.0,92.4 491.4,92.5 491.8,92.6 492.2,92.5 492.6,92.4 493.0,92.4 493.4,92.4 493.8,92.3 494.2,92.2 494.6,92.3 495.0,92.2 495.4,92.3 495.8,92.4 496.2,92.2 496.6,92.1 497.0,92.1 497.4,92.1 497.8,92.1 498.2,92.0 498.6,92.1 499.0,92.3 499.4,92.3 499.8,92.2 500.2,92.3 500.6,92.5 501.0,92.6 501.4,92.7 501.8,92.7 502.2,92.7 502.6,92.6 503.0,92.5 503.4,92.4 503.8,92.5 504.2,92.5 504.6,92.3 505.0,92.2 505.4,92.0 505.8,91.7 506.2,91.3 506.6,90.8 507.0,90.5 507.4,90.4 507.8,90.4 508.2,90.4 508.6,90.7 509.0,91.1 509.4,91.3 509.8,91.5 510.2,91.9 510.6,92.2 511.0,92.2 511.4,92.3 511.8,92.4 512.2,92.4 512.6,92.4 513.0,92.4 513.4,92.4 513.8,92.3 514.2,92.2 514.6,92.2 515.0,92.1 515.4,92.1 515.8,92.1 516.2,92.3 516.6,92.3 517.0,92.4 517.4,92.3 517.8,92.3 518.2,92.4 518.6,92.3 519.0,92.1 519.4,92.0 519.8,92.0 520.2,92.1 520.6,92.1 521.0,92.0 521.4,91.8 521.8,91.5 522.2,91.0 522.6,90.5 523.0,90.1 523.4,89.6 523.8,89.0 524.2,88.7 524.6,88.7 525.0,89.1 525.4,89.5 525.8,90.2 526.2,90.7 526.6,91.2 527.0,91.5 527.4,91.9 527.8,92.2 528.2,92.3 528.6,92.4 529.0,92.4 529.4,92.1 529.8,92.0 530.2,92.1 530.6,91.8 531.0,91.4 531.4,91.1 531.8,90.9 532.2,90.7 532.6,90.4 533.0,90.3 533.4,90.3 533.8,90.6 534.2,91.0 534.6,91.3 535.0,91.7 535.4,91.9 535.8,92.0 536.2,92.1 536.6,92.3 537.0,92.4 537.4,92.4 537.8,92.6"/>
<polyline stroke="#fb9f7f" points="36.6,49.4 37.0,49.4 37.4,49.3 37.8,49.3 38.2,49.5 38.6,49.5 39.0,49.4 39.4,49.4 39.8,49.4 40.2,49.4 40.6,49.5 41.0,49.4 41.4,49.5 41.8,49.5 42.2,49.4 42.6,49.5 43.0,49.5 43.4,49.5 43.8,49.5 44.2,49.6 44.6,49.6 45.0,49.5 45.4,49.5 45.8,49.6 46.2,49.6 46.6,49.4 47.0,49.3 47.4,49.2 47.8,49.2 48.2,49.3 48.6,49.3 49.0,49.3 49.4,49.4 49.8,49.4 50.2,49.3 50.6,49.3 51.0,49.4 51.4,49.5 51.8,49.5 52.2,49.5 52.6,49.5 53.0,49.6 53.4,49.6 53.8,49.6 54.2,49.5 54.6,49.6 55.0,49.8 55.4,49.8 55.8,49.7 56.2,49.7 56.6,49.6 57.0,49.6 57.4,49.6 57.8,49.7 58.2,49.6 58.6,49.5 59.0,49.5 59.4,49.6 59.8,49.6 60.2,49.6 60.6,49.7 61.0,49.6 61.4,49.5 61.8,49.4 62.2,49.5 62.6,49.4 63.0,49.3 63.4,49.5 63.8,49.6 64.2,49.6 64.6,49.5 65.0,49.4 65.4,49.5 65.8,49.6 66.2,49.6 66.6,49.5 67.0,49.5 67.4,49.6 67.8,49.5 68.2,49.5 68.6,49.5 69.0,49.5 69.4,49.5 69.8,49.5 70.2,49.6 70.6,49.5 71.0,49.3 71.4,49.3 71.8,49.4 72.2,49.3 72.6,49.2 73.0,49.0 73.4,49.0 73.8,49.0 74.2,48.9 74.6,48.8 75.0,48.8 75.4,48.8 75.8,48.8 76.2,48.8 76.6,48.9 77.0,48.9 77.4,48.8 77.8,48.8 78.2,48.9 78.6,48.8 79.0,48.7 79.4,48.7 79.8,48.8 80.2,48.8 80.6,48.7 81.0,48.6 81.4,48.4 81.8,48.3 82.2,48.2 82.6,48.0 83.0,47.8 83.4,47.5 83.8,47.2 84.2,46.8 84.6,46.0 85.0,45.2 85.4,44.2 85.8,43.0 86.2,41.1 86.6,39.0 87.0,37.3 87.4,36.5 87.8,39.5 88.2,43.6 88.6,46.0 89.0,47.2 89.4,47.9 89.8,48.2 90.2,48.5 90.6,48.7 91.0,48.7 91.4,48.9 91.8,49.0 92.2,49.2 92.6,49.3 93.0,49.3 93.4,49.3 93.8,49.4 94.2,49.6 94.6,49.6 95.0,49.6 95.4,49.6 95.8,49.5 96.2,49.6 96.6,49.8 97.0,49.7 97.4,49.8 97.8,49.9 98.2,49.9 98.6,49.8 99.0,49.7 99.4,49.7 99.8,49.7 100.2,49.6 100.6,49.6 101.0,49.5 101.4,49.5 101.8,49.4 102.2,49.4 102.6,49.4 103.0,49.4 103.4,49.4 103.8,49.4 104.2,49.5 104.6,49.6 105.0,49.7 105.4,49.8 105.8,49.7 106.2,49.7 106.6,49.7 107.0,49.7 107.4,49.7 107.8,49.8 108.2,49.7 108.6,49.7 109.0,49.8 109.4,49.8 109.8,49.7 110.2,49.5 110.6,49.6 111.0,49.6 111.4,49.6 111.8,49.6 112.2,49.5 112.6,49.4 113.0,49.3 113.4,49.3 113.8,49.3 114.2,49.3 114.6,49.2 115.0,49.2 115.4,49.2 115.8,49.3 116.2,49.2 116.6,49.2 117.0,49.2 117.4,49.2 117.8,49.1 118.2,49.0 118.6,48.9 119.0,48.8 119.4,48.8 119.8,48.8 120.2,48.7 120.6,48.5 121.0,48.4 121.4,48.3 121.8,48.0 122.2,47.7 122.6,47.4 123.0,46.8 123.4,45.8 123.8,45.2 124.2,44.9 124.6,45.5 125.0,46.8 125.4,47.7 125.8,48.4 126.2,48.8 126.6,49.0 127.0,49.0 127.4,49.2 127.8,49.5 128.2,49.6 128.6,49.5 129.0,49.4 129.4,49.5 129.8,49.5 130.2,49.3 130.6,49.3 131.0,49.5 131.4,49.6 131.8,49.5 132.2,49.4 132.6,49.3 133.0,49.3 133.4,49.4 133.8,49.4 134.2,49.2 134.6,49.1 135.0,49.1 135.4,49.1 135.8,49.0 136.2,49.2 136.6,49.3 137.0,49.2 137.4,49.2 137.8,49.3 138.2,49.3 138.6,49.2 139.0,49.1 139.4,49.1 139.8,49.2 140.2,49.3 140.6,49.3 141.0,49.1 141.4,49.1 141.8,49.3 142.2,49.4 142.6,49.4 143.0,49.4 143.4,49.4 143.8,49.3 144.2,49.4 144.6,49.4 145.0,49.3 145.4,49.2 145.8,49.2 146.2,49.5 146.6,49.6 147.0,49.5 147.4,49.4 147.8,49.5 148.2,49.5 148.6,49.4 149.0,49.3 149.4,49.1 149.8,49.1 150.2,49.2 150.6,49.1 151.0,49.1 151.4,49.2 151.8,49.2 152.2,49.2 152.6,49.2 153.0,49.2 153.4,49.2 153.8,49.0 154.2,48.8 154.6,48.7 155.0,48.6 155.4,48.4 155.8,48.1 156.2,47.7 156.6,47.3 157.0,46.9 157.4,46.3 157.8,45.5 158.2,44.3 158.6,42.9 159.0,41.8 159.4,41.4 159.8,42.9 160.2,45.1 160.6,46.6 161.0,47.5 161.4,48.1 161.8,48.5 162.2,48.8 162.6,49.0 163.0,48.9 163.4,48.8 163.8,48.9 164.2,49.0 164.6,49.0 165.0,49.0 165.4,49.1 165.8,49.0 166.2,49.0 166.6,49.0 167.0,49.2 167.4,49.2 167.8,49.1 168.2,49.1 168.6,49.0 169.0,49.0 169.4,48.9 169.8,48.7 170.2,48.5 170.6,48.6 171.0,48.7 171.4,48.7 171.8,48.6 172.2,48.5 172.6,48.4 173.0,48.3 173.4,48.3 173.8,48.0 174.2,47.9 174.6,47.8 175.0,47.8 175.4,47.8 175.8,47.7 176.2,47.5 176.6,47.2 177.0,46.9 177.4,46.3 177.8,45.5 178.2,44.2 178.6,42.7 179.0,40.7 179.4,37.9 179.8,34.9 180.2,32.8 180.6,33.2 181.0,37.4 181.4,41.5 181.8,44.2 182.2,45.9 182.6,46.7 183.0,47.2 183.4,47.8 183.8,48.2 184.2,48.4 184.6,48.4 185.0,48.5 185.4,48.5 185.8,48.5 186.2,48.6 186.6,48.7 187.0,48.7 187.4,48.8 187.8,48.8 188.2,48.8 188.6,48.9 189.0,48.8 189.4,48.8 189.8,48.8 190.2,48.8 190.6,48.6 191.0,48.4 191.4,48.0 191.8,47.6 192.2,47.1 192.6,46.5 193.0,46.2 193.4,46.6 193.8,47.2 194.2,47.7 194.6,48.2 195.0,48.5 195.4,48.6 195.8,48.5 196.2,48.6 196.6,48.5 197.0,48.5 197.4,48.6 197.8,48.7 198.2,48.5 198.6,48.4 199.0,48.5 199.4,48.7 199.8,48.7 200.2,48.5 200.6,48.4 201.0,48.4 201.4,48.3 201.8,48.2 202.2,48.1 202.6,48.0 203.0,48.0 203.4,47.9 203.8,47.7 204.2,47.5 204.6,47.3 205.0,46.9 205.4,46.5 205.8,46.1 206.2,45.8 206.6,45.3 207.0,44.3 207.4,42.8 207.8,41.0 208.2,38.7 208.6,35.2 209.0,30.3 209.4,24.6 209.8,19.7 210.2,18.2 210.6,23.1 211.0,30.6 211.4,36.7 211.8,41.0 212.2,43.5 212.6,45.1 213.0,46.2 213.4,46.9 213.8,47.3 214.2,47.7 214.6,48.0 215.0,48.3 215.4,48.4 215.8,48.7 216.2,48.8 216.6,48.8 217.0,48.8 217.4,48.8 217.8,49.0 218.2,49.0 218.6,48.9 219.0,49.1 219.4,49.3 219.8,49.3 220.2,49.1 220.6,49.1 221.0,49.0 221.4,49.0 221.8,48.9 222.2,48.8 222.6,48.8 223.0,48.9 223.4,48.9 223.8,48.8 224.2,48.9 224.6,48.9 225.0,48.8 225.4,48.7 225.8,48.6 226.2,48.5 226.6,48.3 227.0,48.1 227.4,47.9 227.8,47.6 228.2,47.3 228.6,47.0 229.0,47.0 229.4,47.3 229.8,47.7 230.2,47.9 230.6,48.0 231.0,48.1 231.4,48.2 231.8,48.2 232.2,48.1 232.6,47.9 233.0,47.7 233.4,47.6 233.8,47.4 234.2,46.9 234.6,46.1 235.0,45.2 235.4,44.0 235.8,42.3 236.2,40.2 236.6,37.8 237.0,36.0 237.4,35.6 237.8,37.4 238.2,40.3 238.6,43.0 239.0,45.0 239.4,46.4 239.8,47.2 240.2,47.8 240.6,48.1 241.0,48.4 241.4,48.6 241.8,48.7 242.2,48.7 242.6,48.7 243.0,48.8 243.4,48.8 243.8,48.8 244.2,48.8 244.6,48.7 245.0,48.5 245.4,48.6 245.8,48.9 246.2,48.9 246.6,48.6 247.0,48.5 247.4,48.5 247.8,48.6 248.2,48.7 248.6,48.7 249.0,48.7 249.4,48.7 249.8,48.6 250.2,48.6 250.6,48.7 251.0,48.7 251.4,48.6 251.8,48.6 252.2,48.6 252.6,48.5 253.0,48.2 253.4,48.0 253.8,48.1 254.2,48.1 254.6,47.9 255.0,47.7 255.4,47.5 255.8,47.2 256.2,47.0 256.6,46.6 257.0,46.1 257.4,45.2 257.8,44.0 258.2,42.4 258.6,40.2 259.0,37.7 259.4,34.7 259.8,31.5 260.2,29.0 260.6,28.4 261.0,30.6 261.4,34.4 261.8,38.2 262.2,41.2 262.6,43.5 263.0,45.2 263.4,46.2 263.8,46.8 264.2,47.3 264.6,47.6 265.0,47.5 265.4,47.3 265.8,47.1 266.2,46.7 266.6,46.1 267.0,45.3 267.4,44.4 267.8,43.5 268.2,42.9 268.6,42.9 269.0,43.8 269.4,45.0 269.8,46.1 270.2,47.1 270.6,47.8 271.0,48.2 271.4,48.6 271.8,48.8 272.2,48.8 272.6,48.9 273.0,48.8 273.4,48.8 273.8,48.9 274.2,49.1 274.6,49.2 275.0,49.1 275.4,49.1 275.8,49.1 276.2,49.2 276.6,49.2 277.0,49.2 277.4,49.3 277.8,49.3 278.2,49.3 278.6,49.4 279.0,49.3 279.4,49.1 279.8,49.1 280.2,49.3 280.6,49.2 281.0,49.1 281.4,49.0 281.8,48.9 282.2,48.9 282.6,48.9 283.0,48.8 283.4,48.7 283.8,48.6 284.2,48.5 284.6,48.6 285.0,48.5 285.4,48.1 285.8,47.7 286.2,47.3 286.6,46.9 287.0,46.4 287.4,45.9 287.8,45.6 288.2,45.6 288.6,46.0 289.0,46.5 289.4,47.1 289.8,47.5 290.2,47.9 290.6,48.1 291.0,48.2 291.4,48.3 291.8,48.4 292.2,48.2 292.6,47.8 293.0,47.3 293.4,46.7 293.8,45.8 294.2,44.6 294.6,43.4 295.0,42.2 295.4,41.3 295.8,41.3 296.2,42.1 296.6,43.3 297.0,44.6 297.4,46.0 297.8,47.0 298.2,47.6 298.6,48.2 299.0,48.6 299.4,48.9 299.8,49.0 300.2,49.1 300.6,49.1 301.0,49.2 301.4,49.2 301.8,49.2 302.2,49.1 302.6,49.0 303.0,49.0 303.4,49.1 303.8,49.2 304.2,49.2 304.6,49.1 305.0,49.0 305.4,49.1 305.8,49.1 306.2,49.2 306.6,49.1 307.0,49.0 307.4,49.0 307.8,49.0 308.2,49.0 308.6,49.0 309.0,48.9 309.4,48.7 309.8,48.7 310.2,48.7 310.6,48.7 311.0,48.6 311.4,48.6 311.8,48.6 312.2,48.4 312.6,48.4 313.0,48.4 313.4,48.5 313.8,48.4 314.2,48.2 314.6,47.9 315.0,47.9 315.4,47.6 315.8,47.4 316.2,47.1 316.6,46.7 317.0,46.0 317.4,45.0 317.8,43.4 318.2,41.1 318.6,37.9 319.0,33.9 319.4,29.5 319.8,25.4 320.2,22.2 320.6,20.9 321.0,22.0 321.4,25.3 321.8,29.8 322.2,34.3 322.6,38.2 323.0,41.4 323.4,43.4 323.8,44.6 324.2,45.0 324.6,44.5 325.0,43.1 325.4,41.0 325.8,38.2 326.2,34.8 326.6,31.5 327.0,29.1 327.4,27.8 327.8,28.1 328.2,30.2 328.6,33.5 329.0,37.1 329.4,40.4 329.8,43.0 330.2,44.7 330.6,45.8 331.0,46.4 331.4,46.6 331.8,46.5 332.2,46.4 332.6,46.5 333.0,46.6 333.4,46.7 333.8,47.1 334.2,47.5 334.6,48.0 335.0,48.4 335.4,48.9 335.8,48.9 336.2,49.0 336.6,49.2 337.0,49.2 337.4,49.2 337.8,49.2 338.2,49.3 338.6,49.4 339.0,49.4 339.4,49.6 339.8,49.8 340.2,49.7 340.6,49.6 341.0,49.6 341.4,49.7 341.8,49.7 342.2,49.6 342.6,49.4 343.0,49.4 343.4,49.5 343.8,49.5 344.2,49.4 344.6,49.3 345.0,49.2 345.4,49.3 345.8,49.4 346.2,49.4 346.6,49.3 347.0,49.0 347.4,48.9 347.8,49.0 348.2,49.1 348.6,49.1 349.0,49.1 349.4,49.2 349.8,49.2 350.2,49.2 350.6,49.2 351.0,49.3 351.4,49.1 351.8,48.8 352.2,48.6 352.6,48.3 353.0,47.8 353.4,47.0 353.8,46.2 354.2,45.7 354.6,45.6 355.0,45.7 355.4,46.1 355.8,46.8 356.2,47.7 356.6,48.3 357.0,48.6 357.4,48.8 357.8,49.0 358.2,49.0 358.6,49.1 359.0,49.1 359.4,49.1 359.8,49.0 360.2,49.0 360.6,48.8 361.0,48.3 361.4,47.7 361.8,47.0 362.2,46.1 362.6,45.0 363.0,43.8 363.4,43.0 363.8,43.2 364.2,43.9 364.6,44.9 365.0,46.1 365.4,47.1 365.8,47.7 366.2,48.0 366.6,48.1 367.0,47.8 367.4,47.4 367.8,47.0 368.2,46.6 368.6,46.4 369.0,46.6 369.4,46.9 369.8,47.3 370.2,47.8 370.6,48.2 371.0,48.6 371.4,48.9 371.8,49.1 372.2,49.1 372.6,49.2 373.0,49.3 373.4,49.4 373.8,49.4 374.2,49.4 374.6,49.4 375.0,49.4 375.4,49.2 375.8,49.2 376.2,49.4 376.6,49.4 377.0,49.4 377.4,49.4 377.8,49.2 378.2,49.2 378.6,49.2 379.0,49.2 379.4,49.1 379.8,49.1 380.2,48.9 380.6,48.6 381.0,48.3 381.4,47.9 381.8,47.2 382.2,46.3 382.6,45.3 383.0,44.3 383.4,43.7 383.8,43.9 384.2,44.6 384.6,45.7 385.0,46.8 385.4,47.6 385.8,48.2 386.2,48.6 386.6,48.9 387.0,49.0 387.4,49.1 387.8,49.3 388.2,49.5 388.6,49.5 389.0,49.5 389.4,49.5 389.8,49.5 390.2,49.6 390.6,49.5 391.0,49.4 391.4,49.5 391.8,49.6 392.2,49.7 392.6,49.7 393.0,49.7 393.4,49.8 393.8,49.7 394.2,49.6 394.6,49.5 395.0,49.5 395.4,49.7 395.8,49.7 396.2,49.5 396.6,49.3 397.0,49.2 397.4,49.3 397.8,49.3 398.2,49.3 398.6,49.4 399.0,49.4 399.4,49.4 399.8,49.4 400.2,49.6 400.6,49.7 401.0,49.6 401.4,49.4 401.8,49.4 402.2,49.5 402.6,49.6 403.0,49.5 403.4,49.3 403.8,49.4 404.2,49.4 404.6,49.2 405.0,49.2 405.4,49.4 405.8,49.4 406.2,49.4 406.6,49.4 407.0,49.3 407.4,49.1 407.8,49.1 408.2,49.2 408.6,49.0 409.0,48.9 409.4,48.8 409.8,48.5 410.2,48.3 410.6,48.0 411.0,47.8 411.4,47.9 411.8,48.2 412.2,48.4 412.6,48.6 413.0,48.6 413.4,48.5 413.8,48.5 414.2,48.3 414.6,48.0 415.0,47.8 415.4,47.7 415.8,47.5 416.2,47.6 416.6,48.1 417.0,48.5 417.4,48.8 417.8,49.0 418.2,49.3 418.6,49.4 419.0,49.5 419.4,49.7 419.8,49.8 420.2,49.9 420.6,49.8 421.0,49.7 421.4,49.8 421.8,49.8 422.2,49.8 422.6,49.7 423.0,49.6 423.4,49.5 423.8,49.6 424.2,49.7 424.6,49.6 425.0,49.5 425.4,49.6 425.8,49.6 426.2,49.5 426.6,49.5 427.0,49.5 427.4,49.7 427.8,49.6 428.2,49.5 428.6,49.4 429.0,49.3 429.4,49.3 429.8,49.4 430.2,49.4 430.6,49.5 431.0,49.5 431.4,49.5 431.8,49.4 432.2,49.2 432.6,49.1 433.0,49.2 433.4,49.3 433.8,49.4 434.2,49.6 434.6,49.7 435.0,49.6 435.4,49.6 435.8,49.6 436.2,49.5 436.6,49.5 437.0,49.5 437.4,49.6 437.8,49.5 438.2,49.4 438.6,49.4 439.0,49.5 439.4,49.6 439.8,49.6 440.2,49.5 440.6,49.5 441.0,49.5 441.4,49.5 441.8,49.5 442.2,49.4 442.6,49.4 443.0,49.5 443.4,49.5 443.8,49.3 444.2,49.3 444.6,49.3 445.0,49.3 445.4,49.4 445.8,49.3 446.2,49.2 446.6,49.2 447.0,49.4 447.4,49.4 447.8,49.3 448.2,49.3 448.6,49.4 449.0,49.5 449.4,49.7 449.8,49.7 450.2,49.6 450.6,49.5 451.0,49.4 451.4,49.5 451.8,49.5 452.2,49.5 452.6,49.4 453.0,49.4 453.4,49.6 453.8,49.6 454.2,49.5 454.6,49.4 455.0,49.3 455.4,49.3 455.8,49.5 456.2,49.5 456.6,49.4 457.0,49.4 457.4,49.4 457.8,49.4 458.2,49.5 458.6,49.4 459.0,49.2 459.4,49.2 459.8,49.2 460.2,49.1 460.6,49.0 461.0,48.8 461.4,48.6 461.8,48.2 462.2,47.7 462.6,47.3 463.0,47.1 463.4,46.8 463.8,47.1 464.2,47.6 464.6,47.9 465.0,48.2 465.4,48.5 465.8,48.7 466.2,49.0 466.6,49.2 467.0,49.0 467.4,49.0 467.8,49.2 468.2,49.2 468.6,49.2 469.0,49.2 469.4,49.1 469.8,49.1 470.2,49.0 470.6,49.0 471.0,49.0 471.4,48.8 471.8,48.9 472.2,49.1 472.6,49.1 473.0,49.1 473.4,49.0 473.8,49.1 474.2,49.2 474.6,49.2 475.0,49.2 475.4,49.2 475.8,49.2 476.2,49.3 476.6,49.4 477.0,49.5 477.4,49.5 477.8,49.4 478.2,49.4 478.6,49.5 479.0,49.5 479.4,49.6 479.8,49.5 480.2,49.5 480.6,49.4 481.0,49.4 481.4,49.4 481.8,49.4 482.2,49.4 482.6,49.5 483.0,49.5 483.4,49.4 483.8,49.4 484.2,49.3 484.6,49.3 485.0,49.4 485.4,49.3 485.8,49.2 486.2,49.3 486.6,49.4 487.0,49.4 487.4,49.5 487.8,49.5 488.2,49.4 488.6,49.5 489.0,49.6 489.4,49.5 489.8,49.4 490.2,49.4 490.6,49.5 491.0,49.6 491.4,49.7 491.8,49.7 492.2,49.7 492.6,49.7 493.0,49.7 493.4,49.7 493.8,49.6 494.2,49.5 494.6,49.5 495.0,49.4 495.4,49.3 495.8,49.2 496.2,49.3 496.6,49.3 497.0,49.4 497.4,49.6 497.8,49.7 498.2,49.7 498.6,49.7 499.0,49.8 499.4,49.9 499.8,49.8 500.2,49.6 500.6,49.6 501.0,49.4 501.4,49.3 501.8,49.4 502.2,49.4 502.6,49.2 503.0,49.3 503.4,49.5 503.8,49.4 504.2,49.3 504.6,49.2 505.0,49.1 505.4,49.1 505.8,48.9 506.2,48.6 506.6,48.4 507.0,48.2 507.4,48.2 507.8,48.2 508.2,48.4 508.6,48.6 509.0,48.8 509.4,49.0 509.8,49.0 510.2,49.1 510.6,49.2 511.0,49.4 511.4,49.3 511.8,49.3 512.2,49.4 512.6,49.3 513.0,49.2 513.4,49.1 513.8,49.2 514.2,49.3 514.6,49.2 515.0,49.2 515.4,49.3 515.8,49.3 516.2,49.3 516.6,49.3 517.0,49.3 517.4,49.3 517.8,49.3 518.2,49.5 518.6,49.5 519.0,49.3 519.4,49.3 519.8,49.4 520.2,49.3 520.6,49.0 521.0,48.9 521.4,48.8 521.8,48.5 522.2,48.2 522.6,47.8 523.0,47.5 523.4,47.1 523.8,46.9 524.2,46.9 524.6,47.2 525.0,47.4 525.4,47.8 525.8,48.4 526.2,48.8 526.6,48.9 527.0,49.1 527.4,49.2 527.8,49.3 528.2,49.1 528.6,49.1 529.0,49.2 529.4,49.1 529.8,49.1 530.2,49.0 530.6,48.6 531.0,48.2 531.4,48.0 531.8,47.6 532.2,47.0 532.6,46.9 533.0,47.1 533.4,47.6 533.8,48.0 534.2,48.4 534.6,48.8 535.0,49.1 535.4,49.0 535.8,49.1 536.2,49.3 536.6,49.4 537.0,49.4 537.4,49.6 537.8,49.6"/>
<text x="416.8" y="306.4" font-size="8.50" textLength="24.8" lengthAdjust="spacingAndGlyphs">K-CHA</text>
<text x="410.5" y="279.6" font-size="8.50" textLength="34.9" lengthAdjust="spacingAndGlyphs">NH<tspan font-size="5.9" dy="1.9">4</tspan><tspan dy="-1.9">-CHA</tspan></text>
<text x="393.0" y="240.0" font-size="8.50" textLength="75.8" lengthAdjust="spacingAndGlyphs">0.05M Cu-NH<tspan font-size="5.9" dy="1.9">4</tspan><tspan dy="-1.9">-CHA</tspan></text>
<text x="389.9" y="192.2" font-size="8.50" textLength="66.4" lengthAdjust="spacingAndGlyphs">0.05M Cu-K-CHA</text>
<text x="389.0" y="159.3" font-size="8.50" textLength="71.4" lengthAdjust="spacingAndGlyphs">0.1M Cu-NH<tspan font-size="5.9" dy="1.9">4</tspan><tspan dy="-1.9">-CHA</tspan></text>
<text x="391.6" y="117.2" font-size="8.50" textLength="60.8" lengthAdjust="spacingAndGlyphs">0.1M Cu-K-CHA</text>
<text x="380.2" y="82.2" font-size="8.50" textLength="87.8" lengthAdjust="spacingAndGlyphs">0.1M Cu-NH<tspan font-size="5.9" dy="1.9">4</tspan><tspan dy="-1.9">-CHA-RM</tspan></text>
<text x="389.0" y="44.4" font-size="8.50" textLength="74.4" lengthAdjust="spacingAndGlyphs">0.1M Cu-K-CHA-RT</text>
<text x="36.6" y="329.8" font-size="10" text-anchor="middle">5</text>
<text x="92.3" y="329.8" font-size="10" text-anchor="middle">10</text>
<text x="148.0" y="329.8" font-size="10" text-anchor="middle">15</text>
<text x="203.7" y="329.8" font-size="10" text-anchor="middle">20</text>
<text x="259.4" y="329.8" font-size="10" text-anchor="middle">25</text>
<text x="315.0" y="329.8" font-size="10" text-anchor="middle">30</text>
<text x="370.7" y="329.8" font-size="10" text-anchor="middle">35</text>
<text x="426.4" y="329.8" font-size="10" text-anchor="middle">40</text>
<text x="482.1" y="329.8" font-size="10" text-anchor="middle">45</text>
<text x="537.8" y="329.8" font-size="10" text-anchor="middle">50</text>
<text x="286.9" y="346.8" font-size="11.4" text-anchor="middle">2Θ [°]</text>
<text transform="translate(17.8 176) rotate(-90)" font-size="12.9" text-anchor="middle">Intensity[a.u]</text>
</svg></body></html>
